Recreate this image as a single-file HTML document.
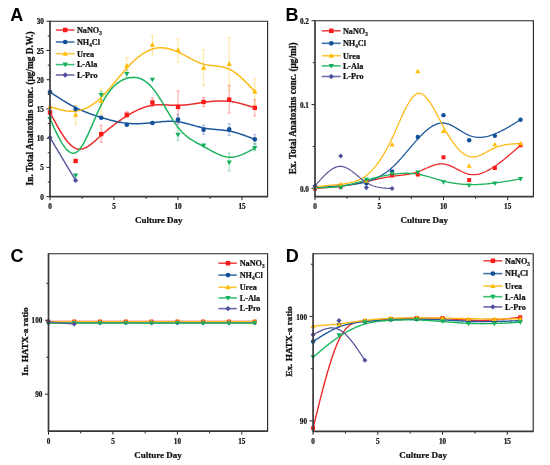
<!DOCTYPE html>
<html><head><meta charset="utf-8"><style>html,body{margin:0;padding:0;background:#fff;width:550px;height:465px;overflow:hidden}svg{display:block;will-change:transform}</style></head>
<body><svg width="550" height="465" viewBox="0 0 550 465">
<rect width="550" height="465" fill="#fff"/>
<line x1="50" y1="196.6" x2="50" y2="200.1" stroke="#222" stroke-width="1"/>
<text x="50" y="209.4" font-family="Liberation Serif" font-weight="bold" stroke="#111" stroke-width="0.22" font-size="7.2" text-anchor="middle" fill="#111">0</text>
<line x1="114" y1="196.6" x2="114" y2="200.1" stroke="#222" stroke-width="1"/>
<text x="114" y="209.4" font-family="Liberation Serif" font-weight="bold" stroke="#111" stroke-width="0.22" font-size="7.2" text-anchor="middle" fill="#111">5</text>
<line x1="178" y1="196.6" x2="178" y2="200.1" stroke="#222" stroke-width="1"/>
<text x="178" y="209.4" font-family="Liberation Serif" font-weight="bold" stroke="#111" stroke-width="0.22" font-size="7.2" text-anchor="middle" fill="#111">10</text>
<line x1="242" y1="196.6" x2="242" y2="200.1" stroke="#222" stroke-width="1"/>
<text x="242" y="209.4" font-family="Liberation Serif" font-weight="bold" stroke="#111" stroke-width="0.22" font-size="7.2" text-anchor="middle" fill="#111">15</text>
<line x1="82" y1="196.6" x2="82" y2="198.8" stroke="#222" stroke-width="1"/>
<line x1="146" y1="196.6" x2="146" y2="198.8" stroke="#222" stroke-width="1"/>
<line x1="210" y1="196.6" x2="210" y2="198.8" stroke="#222" stroke-width="1"/>
<line x1="46.5" y1="196.6" x2="50" y2="196.6" stroke="#222" stroke-width="1"/>
<text x="43.9" y="199.7" font-family="Liberation Serif" font-weight="bold" stroke="#111" stroke-width="0.22" font-size="7.2" text-anchor="end" fill="#111">0</text>
<line x1="46.5" y1="167.38" x2="50" y2="167.38" stroke="#222" stroke-width="1"/>
<text x="43.9" y="170.48" font-family="Liberation Serif" font-weight="bold" stroke="#111" stroke-width="0.22" font-size="7.2" text-anchor="end" fill="#111">5</text>
<line x1="46.5" y1="138.17" x2="50" y2="138.17" stroke="#222" stroke-width="1"/>
<text x="43.9" y="141.27" font-family="Liberation Serif" font-weight="bold" stroke="#111" stroke-width="0.22" font-size="7.2" text-anchor="end" fill="#111">10</text>
<line x1="46.5" y1="108.95" x2="50" y2="108.95" stroke="#222" stroke-width="1"/>
<text x="43.9" y="112.05" font-family="Liberation Serif" font-weight="bold" stroke="#111" stroke-width="0.22" font-size="7.2" text-anchor="end" fill="#111">15</text>
<line x1="46.5" y1="79.73" x2="50" y2="79.73" stroke="#222" stroke-width="1"/>
<text x="43.9" y="82.83" font-family="Liberation Serif" font-weight="bold" stroke="#111" stroke-width="0.22" font-size="7.2" text-anchor="end" fill="#111">20</text>
<line x1="46.5" y1="50.52" x2="50" y2="50.52" stroke="#222" stroke-width="1"/>
<text x="43.9" y="53.62" font-family="Liberation Serif" font-weight="bold" stroke="#111" stroke-width="0.22" font-size="7.2" text-anchor="end" fill="#111">25</text>
<line x1="46.5" y1="21.3" x2="50" y2="21.3" stroke="#222" stroke-width="1"/>
<text x="43.9" y="24.4" font-family="Liberation Serif" font-weight="bold" stroke="#111" stroke-width="0.22" font-size="7.2" text-anchor="end" fill="#111">30</text>
<line x1="47.8" y1="181.99" x2="50" y2="181.99" stroke="#222" stroke-width="1"/>
<line x1="47.8" y1="152.78" x2="50" y2="152.78" stroke="#222" stroke-width="1"/>
<line x1="47.8" y1="123.56" x2="50" y2="123.56" stroke="#222" stroke-width="1"/>
<line x1="47.8" y1="94.34" x2="50" y2="94.34" stroke="#222" stroke-width="1"/>
<line x1="47.8" y1="65.12" x2="50" y2="65.12" stroke="#222" stroke-width="1"/>
<line x1="47.8" y1="35.91" x2="50" y2="35.91" stroke="#222" stroke-width="1"/>
<text x="158.8" y="223.1" font-family="Liberation Serif" font-weight="bold" stroke="#111" stroke-width="0.22" font-size="9" text-anchor="middle" fill="#111">Culture Day</text>
<text transform="translate(32.7 108.4) rotate(-90)" x="0" y="0" font-family="Liberation Serif" font-weight="bold" stroke="#111" stroke-width="0.3" font-size="9.3" text-anchor="middle" fill="#111">In. Total Anatoxins conc. (μg/mg D.W.)</text>
<text x="10.3" y="21.1" font-family="Liberation Sans" font-weight="bold" font-size="18" fill="#000">A</text>
<g stroke="#ff1a1a" stroke-width="0.9" opacity="0.45"><line x1="101.2" y1="142.26" x2="101.2" y2="125.31"/><line x1="99.6" y1="142.26" x2="102.8" y2="142.26"/><line x1="99.6" y1="125.31" x2="102.8" y2="125.31"/></g>
<g stroke="#ff1a1a" stroke-width="0.9" opacity="0.45"><line x1="126.8" y1="117.72" x2="126.8" y2="111.87"/><line x1="125.2" y1="117.72" x2="128.4" y2="117.72"/><line x1="125.2" y1="111.87" x2="128.4" y2="111.87"/></g>
<g stroke="#ff1a1a" stroke-width="0.9" opacity="0.45"><line x1="152.4" y1="106.61" x2="152.4" y2="97.85"/><line x1="150.8" y1="106.61" x2="154" y2="106.61"/><line x1="150.8" y1="97.85" x2="154" y2="97.85"/></g>
<g stroke="#ff1a1a" stroke-width="0.9" opacity="0.45"><line x1="178" y1="122.97" x2="178" y2="90.84"/><line x1="176.4" y1="122.97" x2="179.6" y2="122.97"/><line x1="176.4" y1="90.84" x2="179.6" y2="90.84"/></g>
<g stroke="#ff1a1a" stroke-width="0.9" opacity="0.45"><line x1="203.6" y1="106.61" x2="203.6" y2="97.56"/><line x1="202" y1="106.61" x2="205.2" y2="106.61"/><line x1="202" y1="97.56" x2="205.2" y2="97.56"/></g>
<g stroke="#ff1a1a" stroke-width="0.9" opacity="0.45"><line x1="229.2" y1="113.04" x2="229.2" y2="85.58"/><line x1="227.6" y1="113.04" x2="230.8" y2="113.04"/><line x1="227.6" y1="85.58" x2="230.8" y2="85.58"/></g>
<g stroke="#ff1a1a" stroke-width="0.9" opacity="0.45"><line x1="254.8" y1="115.96" x2="254.8" y2="99.6"/><line x1="253.2" y1="115.96" x2="256.4" y2="115.96"/><line x1="253.2" y1="99.6" x2="256.4" y2="99.6"/></g>
<g stroke="#11509a" stroke-width="0.9" opacity="0.45"><line x1="75.6" y1="111.87" x2="75.6" y2="106.03"/><line x1="74" y1="111.87" x2="77.2" y2="111.87"/><line x1="74" y1="106.03" x2="77.2" y2="106.03"/></g>
<g stroke="#11509a" stroke-width="0.9" opacity="0.45"><line x1="178" y1="124.73" x2="178" y2="114.21"/><line x1="176.4" y1="124.73" x2="179.6" y2="124.73"/><line x1="176.4" y1="114.21" x2="179.6" y2="114.21"/></g>
<g stroke="#11509a" stroke-width="0.9" opacity="0.45"><line x1="203.6" y1="134.08" x2="203.6" y2="125.31"/><line x1="202" y1="134.08" x2="205.2" y2="134.08"/><line x1="202" y1="125.31" x2="205.2" y2="125.31"/></g>
<g stroke="#11509a" stroke-width="0.9" opacity="0.45"><line x1="229.2" y1="135.25" x2="229.2" y2="123.85"/><line x1="227.6" y1="135.25" x2="230.8" y2="135.25"/><line x1="227.6" y1="123.85" x2="230.8" y2="123.85"/></g>
<g stroke="#11509a" stroke-width="0.9" opacity="0.45"><line x1="254.8" y1="144.3" x2="254.8" y2="134.66"/><line x1="253.2" y1="144.3" x2="256.4" y2="144.3"/><line x1="253.2" y1="134.66" x2="256.4" y2="134.66"/></g>
<g stroke="#ffbc00" stroke-width="0.9" opacity="0.45"><line x1="75.6" y1="124.73" x2="75.6" y2="105.44"/><line x1="74" y1="124.73" x2="77.2" y2="124.73"/><line x1="74" y1="105.44" x2="77.2" y2="105.44"/></g>
<g stroke="#ffbc00" stroke-width="0.9" opacity="0.45"><line x1="101.2" y1="114.79" x2="101.2" y2="89.08"/><line x1="99.6" y1="114.79" x2="102.8" y2="114.79"/><line x1="99.6" y1="89.08" x2="102.8" y2="89.08"/></g>
<g stroke="#ffbc00" stroke-width="0.9" opacity="0.45"><line x1="126.8" y1="73.89" x2="126.8" y2="57.53"/><line x1="125.2" y1="73.89" x2="128.4" y2="73.89"/><line x1="125.2" y1="57.53" x2="128.4" y2="57.53"/></g>
<g stroke="#ffbc00" stroke-width="0.9" opacity="0.45"><line x1="152.4" y1="54.9" x2="152.4" y2="35.62"/><line x1="150.8" y1="54.9" x2="154" y2="54.9"/><line x1="150.8" y1="35.62" x2="154" y2="35.62"/></g>
<g stroke="#ffbc00" stroke-width="0.9" opacity="0.45"><line x1="178" y1="62.2" x2="178" y2="38.83"/><line x1="176.4" y1="62.2" x2="179.6" y2="62.2"/><line x1="176.4" y1="38.83" x2="179.6" y2="38.83"/></g>
<g stroke="#ffbc00" stroke-width="0.9" opacity="0.45"><line x1="203.6" y1="85.58" x2="203.6" y2="49.93"/><line x1="202" y1="85.58" x2="205.2" y2="85.58"/><line x1="202" y1="49.93" x2="205.2" y2="49.93"/></g>
<g stroke="#ffbc00" stroke-width="0.9" opacity="0.45"><line x1="229.2" y1="90.84" x2="229.2" y2="37.66"/><line x1="227.6" y1="90.84" x2="230.8" y2="90.84"/><line x1="227.6" y1="37.66" x2="230.8" y2="37.66"/></g>
<g stroke="#ffbc00" stroke-width="0.9" opacity="0.45"><line x1="254.8" y1="104.28" x2="254.8" y2="78.56"/><line x1="253.2" y1="104.28" x2="256.4" y2="104.28"/><line x1="253.2" y1="78.56" x2="256.4" y2="78.56"/></g>
<g stroke="#12b05a" stroke-width="0.9" opacity="0.45"><line x1="101.2" y1="99.6" x2="101.2" y2="91.42"/><line x1="99.6" y1="99.6" x2="102.8" y2="99.6"/><line x1="99.6" y1="91.42" x2="102.8" y2="91.42"/></g>
<g stroke="#12b05a" stroke-width="0.9" opacity="0.45"><line x1="126.8" y1="77.4" x2="126.8" y2="69.8"/><line x1="125.2" y1="77.4" x2="128.4" y2="77.4"/><line x1="125.2" y1="69.8" x2="128.4" y2="69.8"/></g>
<g stroke="#12b05a" stroke-width="0.9" opacity="0.45"><line x1="178" y1="140.5" x2="178" y2="127.65"/><line x1="176.4" y1="140.5" x2="179.6" y2="140.5"/><line x1="176.4" y1="127.65" x2="179.6" y2="127.65"/></g>
<g stroke="#12b05a" stroke-width="0.9" opacity="0.45"><line x1="229.2" y1="170.89" x2="229.2" y2="152.78"/><line x1="227.6" y1="170.89" x2="230.8" y2="170.89"/><line x1="227.6" y1="152.78" x2="230.8" y2="152.78"/></g>
<g stroke="#12b05a" stroke-width="0.9" opacity="0.45"><line x1="254.8" y1="150.73" x2="254.8" y2="143.43"/><line x1="253.2" y1="150.73" x2="256.4" y2="150.73"/><line x1="253.2" y1="143.43" x2="256.4" y2="143.43"/></g>
<path d="M50 112.46 L51.07 114.48 L52.13 116.49 L53.2 118.49 L54.27 120.48 L55.33 122.45 L56.4 124.38 L57.47 126.29 L58.53 128.16 L59.6 129.98 L60.67 131.76 L61.73 133.48 L62.8 135.14 L63.87 136.73 L64.93 138.25 L66 139.7 L67.07 141.07 L68.13 142.35 L69.2 143.53 L70.27 144.62 L71.33 145.6 L72.4 146.48 L73.47 147.24 L74.53 147.88 L75.6 148.39 L76.67 148.78 L77.73 149.04 L78.8 149.18 L79.87 149.21 L80.93 149.13 L82 148.96 L83.07 148.68 L84.13 148.32 L85.2 147.88 L86.27 147.35 L87.33 146.76 L88.4 146.1 L89.47 145.39 L90.53 144.62 L91.6 143.8 L92.67 142.95 L93.73 142.05 L94.8 141.13 L95.87 140.19 L96.93 139.23 L98 138.26 L99.07 137.28 L100.13 136.31 L101.2 135.34 L102.27 134.39 L103.33 133.45 L104.4 132.52 L105.47 131.6 L106.53 130.7 L107.6 129.81 L108.67 128.93 L109.73 128.07 L110.8 127.22 L111.87 126.38 L112.93 125.55 L114 124.74 L115.07 123.94 L116.13 123.15 L117.2 122.38 L118.27 121.61 L119.33 120.86 L120.4 120.13 L121.47 119.4 L122.53 118.69 L123.6 117.99 L124.67 117.3 L125.73 116.63 L126.8 115.96 L127.87 115.31 L128.93 114.67 L130 114.05 L131.07 113.44 L132.13 112.84 L133.2 112.26 L134.27 111.7 L135.33 111.15 L136.4 110.62 L137.47 110.11 L138.53 109.62 L139.6 109.15 L140.67 108.7 L141.73 108.27 L142.8 107.86 L143.87 107.48 L144.93 107.12 L146 106.78 L147.07 106.47 L148.13 106.18 L149.2 105.92 L150.27 105.68 L151.33 105.48 L152.4 105.3 L153.47 105.15 L154.53 105.02 L155.6 104.93 L156.67 104.85 L157.73 104.8 L158.8 104.76 L159.87 104.75 L160.93 104.75 L162 104.76 L163.07 104.79 L164.13 104.82 L165.2 104.87 L166.27 104.92 L167.33 104.97 L168.4 105.03 L169.47 105.09 L170.53 105.14 L171.6 105.2 L172.67 105.24 L173.73 105.29 L174.8 105.32 L175.87 105.34 L176.93 105.35 L178 105.35 L179.07 105.33 L180.13 105.29 L181.2 105.24 L182.27 105.18 L183.33 105.1 L184.4 105.01 L185.47 104.91 L186.53 104.8 L187.6 104.68 L188.67 104.56 L189.73 104.42 L190.8 104.28 L191.87 104.13 L192.93 103.98 L194 103.83 L195.07 103.67 L196.13 103.5 L197.2 103.34 L198.27 103.18 L199.33 103.01 L200.4 102.85 L201.47 102.69 L202.53 102.53 L203.6 102.38 L204.67 102.23 L205.73 102.08 L206.8 101.94 L207.87 101.81 L208.93 101.68 L210 101.57 L211.07 101.46 L212.13 101.35 L213.2 101.26 L214.27 101.18 L215.33 101.11 L216.4 101.04 L217.47 100.99 L218.53 100.95 L219.6 100.93 L220.67 100.92 L221.73 100.92 L222.8 100.93 L223.87 100.96 L224.93 101.01 L226 101.07 L227.07 101.15 L228.13 101.24 L229.2 101.35 L230.27 101.48 L231.33 101.63 L232.4 101.8 L233.47 101.98 L234.53 102.17 L235.6 102.39 L236.67 102.61 L237.73 102.85 L238.8 103.1 L239.87 103.36 L240.93 103.63 L242 103.91 L243.07 104.2 L244.13 104.5 L245.2 104.81 L246.27 105.12 L247.33 105.44 L248.4 105.76 L249.47 106.09 L250.53 106.43 L251.6 106.76 L252.67 107.1 L253.73 107.44 L254.8 107.78" fill="none" stroke="#ee2a2a" stroke-width="1.5" stroke-linejoin="round"/>
<path d="M50 92 L51.07 92.71 L52.13 93.42 L53.2 94.12 L54.27 94.82 L55.33 95.52 L56.4 96.22 L57.47 96.91 L58.53 97.6 L59.6 98.29 L60.67 98.97 L61.73 99.64 L62.8 100.31 L63.87 100.97 L64.93 101.62 L66 102.26 L67.07 102.9 L68.13 103.52 L69.2 104.14 L70.27 104.74 L71.33 105.34 L72.4 105.92 L73.47 106.49 L74.53 107.04 L75.6 107.59 L76.67 108.12 L77.73 108.63 L78.8 109.13 L79.87 109.62 L80.93 110.1 L82 110.56 L83.07 111.01 L84.13 111.46 L85.2 111.89 L86.27 112.31 L87.33 112.72 L88.4 113.13 L89.47 113.52 L90.53 113.91 L91.6 114.28 L92.67 114.66 L93.73 115.02 L94.8 115.38 L95.87 115.73 L96.93 116.08 L98 116.42 L99.07 116.76 L100.13 117.09 L101.2 117.42 L102.27 117.75 L103.33 118.07 L104.4 118.39 L105.47 118.71 L106.53 119.02 L107.6 119.32 L108.67 119.62 L109.73 119.91 L110.8 120.2 L111.87 120.47 L112.93 120.74 L114 121 L115.07 121.25 L116.13 121.49 L117.2 121.73 L118.27 121.95 L119.33 122.16 L120.4 122.35 L121.47 122.54 L122.53 122.71 L123.6 122.87 L124.67 123.02 L125.73 123.15 L126.8 123.27 L127.87 123.37 L128.93 123.46 L130 123.53 L131.07 123.59 L132.13 123.63 L133.2 123.67 L134.27 123.69 L135.33 123.7 L136.4 123.7 L137.47 123.69 L138.53 123.66 L139.6 123.63 L140.67 123.59 L141.73 123.54 L142.8 123.48 L143.87 123.42 L144.93 123.35 L146 123.27 L147.07 123.18 L148.13 123.09 L149.2 122.99 L150.27 122.89 L151.33 122.79 L152.4 122.68 L153.47 122.57 L154.53 122.46 L155.6 122.34 L156.67 122.23 L157.73 122.12 L158.8 122.01 L159.87 121.9 L160.93 121.8 L162 121.71 L163.07 121.62 L164.13 121.54 L165.2 121.47 L166.27 121.41 L167.33 121.36 L168.4 121.33 L169.47 121.3 L170.53 121.3 L171.6 121.31 L172.67 121.33 L173.73 121.38 L174.8 121.44 L175.87 121.52 L176.93 121.63 L178 121.76 L179.07 121.91 L180.13 122.08 L181.2 122.28 L182.27 122.49 L183.33 122.72 L184.4 122.96 L185.47 123.22 L186.53 123.49 L187.6 123.77 L188.67 124.06 L189.73 124.35 L190.8 124.65 L191.87 124.95 L192.93 125.25 L194 125.55 L195.07 125.85 L196.13 126.15 L197.2 126.43 L198.27 126.71 L199.33 126.99 L200.4 127.25 L201.47 127.49 L202.53 127.73 L203.6 127.94 L204.67 128.14 L205.73 128.32 L206.8 128.49 L207.87 128.64 L208.93 128.78 L210 128.91 L211.07 129.03 L212.13 129.14 L213.2 129.25 L214.27 129.35 L215.33 129.45 L216.4 129.54 L217.47 129.64 L218.53 129.73 L219.6 129.83 L220.67 129.94 L221.73 130.05 L222.8 130.17 L223.87 130.29 L224.93 130.43 L226 130.58 L227.07 130.74 L228.13 130.91 L229.2 131.11 L230.27 131.32 L231.33 131.54 L232.4 131.79 L233.47 132.04 L234.53 132.32 L235.6 132.6 L236.67 132.9 L237.73 133.22 L238.8 133.54 L239.87 133.88 L240.93 134.23 L242 134.58 L243.07 134.95 L244.13 135.32 L245.2 135.7 L246.27 136.09 L247.33 136.48 L248.4 136.88 L249.47 137.28 L250.53 137.69 L251.6 138.1 L252.67 138.51 L253.73 138.92 L254.8 139.34" fill="none" stroke="#1f5a9e" stroke-width="1.5" stroke-linejoin="round"/>
<path d="M50 106.61 L51.07 106.95 L52.13 107.29 L53.2 107.63 L54.27 107.96 L55.33 108.28 L56.4 108.6 L57.47 108.91 L58.53 109.2 L59.6 109.49 L60.67 109.76 L61.73 110.01 L62.8 110.25 L63.87 110.46 L64.93 110.66 L66 110.83 L67.07 110.98 L68.13 111.11 L69.2 111.21 L70.27 111.28 L71.33 111.32 L72.4 111.32 L73.47 111.3 L74.53 111.24 L75.6 111.14 L76.67 111.01 L77.73 110.83 L78.8 110.62 L79.87 110.37 L80.93 110.09 L82 109.76 L83.07 109.4 L84.13 109 L85.2 108.56 L86.27 108.09 L87.33 107.57 L88.4 107.02 L89.47 106.43 L90.53 105.8 L91.6 105.14 L92.67 104.44 L93.73 103.7 L94.8 102.92 L95.87 102.1 L96.93 101.25 L98 100.36 L99.07 99.43 L100.13 98.46 L101.2 97.46 L102.27 96.42 L103.33 95.34 L104.4 94.23 L105.47 93.1 L106.53 91.93 L107.6 90.74 L108.67 89.53 L109.73 88.3 L110.8 87.05 L111.87 85.79 L112.93 84.52 L114 83.23 L115.07 81.94 L116.13 80.65 L117.2 79.36 L118.27 78.07 L119.33 76.78 L120.4 75.5 L121.47 74.23 L122.53 72.97 L123.6 71.72 L124.67 70.49 L125.73 69.28 L126.8 68.1 L127.87 66.93 L128.93 65.8 L130 64.69 L131.07 63.6 L132.13 62.55 L133.2 61.53 L134.27 60.53 L135.33 59.57 L136.4 58.63 L137.47 57.73 L138.53 56.87 L139.6 56.04 L140.67 55.24 L141.73 54.48 L142.8 53.76 L143.87 53.07 L144.93 52.43 L146 51.82 L147.07 51.25 L148.13 50.73 L149.2 50.24 L150.27 49.8 L151.33 49.41 L152.4 49.06 L153.47 48.75 L154.53 48.49 L155.6 48.27 L156.67 48.1 L157.73 47.96 L158.8 47.87 L159.87 47.82 L160.93 47.8 L162 47.83 L163.07 47.89 L164.13 47.98 L165.2 48.11 L166.27 48.28 L167.33 48.47 L168.4 48.7 L169.47 48.96 L170.53 49.25 L171.6 49.57 L172.67 49.92 L173.73 50.29 L174.8 50.69 L175.87 51.11 L176.93 51.56 L178 52.03 L179.07 52.52 L180.13 53.03 L181.2 53.56 L182.27 54.1 L183.33 54.65 L184.4 55.21 L185.47 55.79 L186.53 56.36 L187.6 56.94 L188.67 57.51 L189.73 58.09 L190.8 58.65 L191.87 59.21 L192.93 59.76 L194 60.3 L195.07 60.82 L196.13 61.33 L197.2 61.81 L198.27 62.27 L199.33 62.71 L200.4 63.12 L201.47 63.5 L202.53 63.84 L203.6 64.15 L204.67 64.43 L205.73 64.67 L206.8 64.88 L207.87 65.06 L208.93 65.22 L210 65.37 L211.07 65.5 L212.13 65.61 L213.2 65.73 L214.27 65.83 L215.33 65.94 L216.4 66.06 L217.47 66.18 L218.53 66.31 L219.6 66.46 L220.67 66.63 L221.73 66.83 L222.8 67.05 L223.87 67.3 L224.93 67.59 L226 67.91 L227.07 68.28 L228.13 68.7 L229.2 69.17 L230.27 69.69 L231.33 70.26 L232.4 70.88 L233.47 71.55 L234.53 72.26 L235.6 73.02 L236.67 73.82 L237.73 74.65 L238.8 75.53 L239.87 76.43 L240.93 77.37 L242 78.34 L243.07 79.33 L244.13 80.35 L245.2 81.4 L246.27 82.46 L247.33 83.54 L248.4 84.64 L249.47 85.75 L250.53 86.87 L251.6 88 L252.67 89.13 L253.73 90.28 L254.8 91.42" fill="none" stroke="#fcbb1a" stroke-width="1.5" stroke-linejoin="round"/>
<path d="M50 118.88 L51.07 121.24 L52.13 123.59 L53.2 125.92 L54.27 128.22 L55.33 130.49 L56.4 132.7 L57.47 134.85 L58.53 136.93 L59.6 138.93 L60.67 140.84 L61.73 142.66 L62.8 144.36 L63.87 145.95 L64.93 147.4 L66 148.72 L67.07 149.89 L68.13 150.9 L69.2 151.74 L70.27 152.4 L71.33 152.87 L72.4 153.15 L73.47 153.21 L74.53 153.06 L75.6 152.68 L76.67 152.06 L77.73 151.22 L78.8 150.17 L79.87 148.93 L80.93 147.5 L82 145.9 L83.07 144.16 L84.13 142.27 L85.2 140.26 L86.27 138.14 L87.33 135.92 L88.4 133.63 L89.47 131.26 L90.53 128.84 L91.6 126.38 L92.67 123.9 L93.73 121.41 L94.8 118.92 L95.87 116.45 L96.93 114.01 L98 111.62 L99.07 109.28 L100.13 107.03 L101.2 104.86 L102.27 102.79 L103.33 100.83 L104.4 98.96 L105.47 97.19 L106.53 95.51 L107.6 93.93 L108.67 92.43 L109.73 91.02 L110.8 89.7 L111.87 88.46 L112.93 87.29 L114 86.21 L115.07 85.2 L116.13 84.26 L117.2 83.4 L118.27 82.6 L119.33 81.86 L120.4 81.19 L121.47 80.59 L122.53 80.03 L123.6 79.54 L124.67 79.1 L125.73 78.71 L126.8 78.37 L127.87 78.08 L128.93 77.83 L130 77.64 L131.07 77.49 L132.13 77.4 L133.2 77.37 L134.27 77.39 L135.33 77.47 L136.4 77.61 L137.47 77.81 L138.53 78.07 L139.6 78.39 L140.67 78.79 L141.73 79.25 L142.8 79.78 L143.87 80.38 L144.93 81.05 L146 81.79 L147.07 82.62 L148.13 83.51 L149.2 84.49 L150.27 85.55 L151.33 86.69 L152.4 87.91 L153.47 89.22 L154.53 90.61 L155.6 92.07 L156.67 93.59 L157.73 95.17 L158.8 96.8 L159.87 98.48 L160.93 100.19 L162 101.94 L163.07 103.71 L164.13 105.5 L165.2 107.3 L166.27 109.1 L167.33 110.91 L168.4 112.7 L169.47 114.48 L170.53 116.23 L171.6 117.95 L172.67 119.64 L173.73 121.29 L174.8 122.88 L175.87 124.42 L176.93 125.9 L178 127.31 L179.07 128.64 L180.13 129.9 L181.2 131.09 L182.27 132.21 L183.33 133.27 L184.4 134.28 L185.47 135.23 L186.53 136.12 L187.6 136.97 L188.67 137.78 L189.73 138.55 L190.8 139.27 L191.87 139.97 L192.93 140.64 L194 141.28 L195.07 141.9 L196.13 142.5 L197.2 143.08 L198.27 143.66 L199.33 144.23 L200.4 144.79 L201.47 145.35 L202.53 145.92 L203.6 146.49 L204.67 147.08 L205.73 147.67 L206.8 148.26 L207.87 148.86 L208.93 149.46 L210 150.06 L211.07 150.65 L212.13 151.23 L213.2 151.8 L214.27 152.36 L215.33 152.9 L216.4 153.42 L217.47 153.92 L218.53 154.4 L219.6 154.84 L220.67 155.26 L221.73 155.65 L222.8 156 L223.87 156.31 L224.93 156.58 L226 156.81 L227.07 156.99 L228.13 157.12 L229.2 157.21 L230.27 157.23 L231.33 157.21 L232.4 157.14 L233.47 157.02 L234.53 156.85 L235.6 156.64 L236.67 156.39 L237.73 156.1 L238.8 155.78 L239.87 155.42 L240.93 155.03 L242 154.61 L243.07 154.16 L244.13 153.69 L245.2 153.19 L246.27 152.68 L247.33 152.15 L248.4 151.6 L249.47 151.04 L250.53 150.46 L251.6 149.88 L252.67 149.29 L253.73 148.7 L254.8 148.1" fill="none" stroke="#1db45e" stroke-width="1.5" stroke-linejoin="round"/>
<path d="M50 137.58 L75.6 180.41" fill="none" stroke="#54549e" stroke-width="1.35" stroke-linejoin="round"/>
<rect x="47.8" y="110.26" width="4.4" height="4.4" fill="#ff1a1a"/>
<rect x="73.4" y="158.76" width="4.4" height="4.4" fill="#ff1a1a"/>
<rect x="99" y="131.88" width="4.4" height="4.4" fill="#ff1a1a"/>
<rect x="124.6" y="112.59" width="4.4" height="4.4" fill="#ff1a1a"/>
<rect x="150.2" y="100.32" width="4.4" height="4.4" fill="#ff1a1a"/>
<rect x="175.8" y="104.7" width="4.4" height="4.4" fill="#ff1a1a"/>
<rect x="201.4" y="99.74" width="4.4" height="4.4" fill="#ff1a1a"/>
<rect x="227" y="97.4" width="4.4" height="4.4" fill="#ff1a1a"/>
<rect x="252.6" y="105.58" width="4.4" height="4.4" fill="#ff1a1a"/>
<circle cx="50" cy="92" r="2.31" fill="#11509a"/>
<circle cx="75.6" cy="108.95" r="2.31" fill="#11509a"/>
<circle cx="101.2" cy="117.72" r="2.31" fill="#11509a"/>
<circle cx="126.8" cy="124.73" r="2.31" fill="#11509a"/>
<circle cx="152.4" cy="122.97" r="2.31" fill="#11509a"/>
<circle cx="178" cy="119.47" r="2.31" fill="#11509a"/>
<circle cx="203.6" cy="129.69" r="2.31" fill="#11509a"/>
<circle cx="229.2" cy="129.4" r="2.31" fill="#11509a"/>
<circle cx="254.8" cy="139.34" r="2.31" fill="#11509a"/>
<path d="M50 103.97L52.64 108.59L47.36 108.59Z" fill="#ffbc00"/>
<path d="M75.6 112.15L78.24 116.77L72.96 116.77Z" fill="#ffbc00"/>
<path d="M101.2 98.42L103.84 103.04L98.56 103.04Z" fill="#ffbc00"/>
<path d="M126.8 63.07L129.44 67.69L124.16 67.69Z" fill="#ffbc00"/>
<path d="M152.4 42.03L155.04 46.65L149.76 46.65Z" fill="#ffbc00"/>
<path d="M178 47.29L180.64 51.91L175.36 51.91Z" fill="#ffbc00"/>
<path d="M203.6 65.11L206.24 69.73L200.96 69.73Z" fill="#ffbc00"/>
<path d="M229.2 61.32L231.84 65.94L226.56 65.94Z" fill="#ffbc00"/>
<path d="M254.8 88.78L257.44 93.4L252.16 93.4Z" fill="#ffbc00"/>
<path d="M50 121.52L52.64 116.9L47.36 116.9Z" fill="#12b05a"/>
<path d="M75.6 178.2L78.24 173.58L72.96 173.58Z" fill="#12b05a"/>
<path d="M101.2 97.57L103.84 92.95L98.56 92.95Z" fill="#12b05a"/>
<path d="M126.8 76.53L129.44 71.91L124.16 71.91Z" fill="#12b05a"/>
<path d="M152.4 82.37L155.04 77.75L149.76 77.75Z" fill="#12b05a"/>
<path d="M178 137.3L180.64 132.68L175.36 132.68Z" fill="#12b05a"/>
<path d="M203.6 148.11L206.24 143.49L200.96 143.49Z" fill="#12b05a"/>
<path d="M229.2 165.06L231.84 160.44L226.56 160.44Z" fill="#12b05a"/>
<path d="M254.8 150.74L257.44 146.12L252.16 146.12Z" fill="#12b05a"/>
<path d="M50 134.94L52.64 137.58L50 140.22L47.36 137.58Z" fill="#4f4f9f"/>
<path d="M75.6 177.77L78.24 180.41L75.6 183.05L72.96 180.41Z" fill="#4f4f9f"/>
<path d="M50 21.3H267.6V196.6" fill="none" stroke="#222" stroke-width="1.1"/>
<path d="M50 20.8V196.6H268.1" fill="none" stroke="#3a3a3a" stroke-width="1.7"/>
<line x1="55.8" y1="30" x2="74.5" y2="30" stroke="#ee2a2a" stroke-width="1.6" opacity="0.85"/>
<rect x="62.95" y="27.75" width="4.5" height="4.5" fill="#ff1a1a"/>
<text x="76.9" y="32.8" font-family="Liberation Serif" font-weight="bold" stroke="#111" stroke-width="0.22" font-size="8.2" fill="#111">NaNO<tspan font-size="5.2" dy="2">3</tspan></text>
<line x1="55.8" y1="42" x2="74.5" y2="42" stroke="#1f5a9e" stroke-width="1.6" opacity="0.85"/>
<circle cx="65.2" cy="42" r="2.36" fill="#11509a"/>
<text x="76.9" y="44.8" font-family="Liberation Serif" font-weight="bold" stroke="#111" stroke-width="0.22" font-size="8.2" fill="#111">NH<tspan font-size="5.2" dy="2">4</tspan><tspan dy="-2">Cl</tspan></text>
<line x1="55.8" y1="53.7" x2="74.5" y2="53.7" stroke="#fcbb1a" stroke-width="1.6" opacity="0.85"/>
<path d="M65.2 51L67.9 55.73L62.5 55.73Z" fill="#ffbc00"/>
<text x="76.9" y="56.5" font-family="Liberation Serif" font-weight="bold" stroke="#111" stroke-width="0.22" font-size="8.2" fill="#111">Urea</text>
<line x1="55.8" y1="64.6" x2="74.5" y2="64.6" stroke="#1db45e" stroke-width="1.6" opacity="0.85"/>
<path d="M65.2 67.3L67.9 62.57L62.5 62.57Z" fill="#12b05a"/>
<text x="76.9" y="67.4" font-family="Liberation Serif" font-weight="bold" stroke="#111" stroke-width="0.22" font-size="8.2" fill="#111">L-Ala</text>
<line x1="55.8" y1="75" x2="74.5" y2="75" stroke="#54549e" stroke-width="1.6" opacity="0.85"/>
<path d="M65.2 72.3L67.9 75L65.2 77.7L62.5 75Z" fill="#4f4f9f"/>
<text x="76.9" y="77.8" font-family="Liberation Serif" font-weight="bold" stroke="#111" stroke-width="0.22" font-size="8.2" fill="#111">L-Pro</text>
<line x1="315" y1="196.6" x2="315" y2="200.1" stroke="#222" stroke-width="1"/>
<text x="315" y="209.4" font-family="Liberation Serif" font-weight="bold" stroke="#111" stroke-width="0.22" font-size="7.2" text-anchor="middle" fill="#111">0</text>
<line x1="379.24" y1="196.6" x2="379.24" y2="200.1" stroke="#222" stroke-width="1"/>
<text x="379.24" y="209.4" font-family="Liberation Serif" font-weight="bold" stroke="#111" stroke-width="0.22" font-size="7.2" text-anchor="middle" fill="#111">5</text>
<line x1="443.47" y1="196.6" x2="443.47" y2="200.1" stroke="#222" stroke-width="1"/>
<text x="443.47" y="209.4" font-family="Liberation Serif" font-weight="bold" stroke="#111" stroke-width="0.22" font-size="7.2" text-anchor="middle" fill="#111">10</text>
<line x1="507.71" y1="196.6" x2="507.71" y2="200.1" stroke="#222" stroke-width="1"/>
<text x="507.71" y="209.4" font-family="Liberation Serif" font-weight="bold" stroke="#111" stroke-width="0.22" font-size="7.2" text-anchor="middle" fill="#111">15</text>
<line x1="347.12" y1="196.6" x2="347.12" y2="198.8" stroke="#222" stroke-width="1"/>
<line x1="411.35" y1="196.6" x2="411.35" y2="198.8" stroke="#222" stroke-width="1"/>
<line x1="475.59" y1="196.6" x2="475.59" y2="198.8" stroke="#222" stroke-width="1"/>
<line x1="311.5" y1="188.46" x2="315" y2="188.46" stroke="#222" stroke-width="1"/>
<text x="308.9" y="191.56" font-family="Liberation Serif" font-weight="bold" stroke="#111" stroke-width="0.22" font-size="7.2" text-anchor="end" fill="#111">0.0</text>
<line x1="311.5" y1="104.58" x2="315" y2="104.58" stroke="#222" stroke-width="1"/>
<text x="308.9" y="107.68" font-family="Liberation Serif" font-weight="bold" stroke="#111" stroke-width="0.22" font-size="7.2" text-anchor="end" fill="#111">0.1</text>
<line x1="311.5" y1="20.7" x2="315" y2="20.7" stroke="#222" stroke-width="1"/>
<text x="308.9" y="23.8" font-family="Liberation Serif" font-weight="bold" stroke="#111" stroke-width="0.22" font-size="7.2" text-anchor="end" fill="#111">0.2</text>
<line x1="312.8" y1="146.52" x2="315" y2="146.52" stroke="#222" stroke-width="1"/>
<line x1="312.8" y1="62.64" x2="315" y2="62.64" stroke="#222" stroke-width="1"/>
<text x="424.2" y="223.1" font-family="Liberation Serif" font-weight="bold" stroke="#111" stroke-width="0.22" font-size="9" text-anchor="middle" fill="#111">Culture Day</text>
<text transform="translate(295.6 108.4) rotate(-90)" x="0" y="0" font-family="Liberation Serif" font-weight="bold" stroke="#111" stroke-width="0.3" font-size="9.3" text-anchor="middle" fill="#111">Ex. Total Anatoxins conc. (μg/ml)</text>
<text x="285.6" y="21.1" font-family="Liberation Sans" font-weight="bold" font-size="18" fill="#000">B</text>
<path d="M315 188.46 L316.07 188.39 L317.14 188.32 L318.21 188.25 L319.28 188.18 L320.35 188.11 L321.42 188.04 L322.49 187.96 L323.56 187.88 L324.64 187.8 L325.71 187.72 L326.78 187.64 L327.85 187.55 L328.92 187.47 L329.99 187.37 L331.06 187.28 L332.13 187.18 L333.2 187.08 L334.27 186.97 L335.34 186.86 L336.41 186.74 L337.48 186.62 L338.55 186.49 L339.62 186.36 L340.69 186.23 L341.76 186.08 L342.84 185.94 L343.91 185.78 L344.98 185.62 L346.05 185.46 L347.12 185.29 L348.19 185.11 L349.26 184.93 L350.33 184.75 L351.4 184.56 L352.47 184.37 L353.54 184.17 L354.61 183.97 L355.68 183.77 L356.75 183.56 L357.82 183.35 L358.89 183.13 L359.96 182.91 L361.04 182.69 L362.11 182.47 L363.18 182.24 L364.25 182.01 L365.32 181.78 L366.39 181.54 L367.46 181.31 L368.53 181.07 L369.6 180.83 L370.67 180.59 L371.74 180.35 L372.81 180.11 L373.88 179.87 L374.95 179.63 L376.02 179.39 L377.09 179.15 L378.16 178.92 L379.24 178.69 L380.31 178.47 L381.38 178.25 L382.45 178.03 L383.52 177.82 L384.59 177.61 L385.66 177.41 L386.73 177.21 L387.8 177.03 L388.87 176.85 L389.94 176.68 L391.01 176.51 L392.08 176.36 L393.15 176.21 L394.22 176.07 L395.29 175.94 L396.36 175.81 L397.44 175.69 L398.51 175.57 L399.58 175.44 L400.65 175.32 L401.72 175.19 L402.79 175.06 L403.86 174.92 L404.93 174.77 L406 174.61 L407.07 174.45 L408.14 174.27 L409.21 174.07 L410.28 173.86 L411.35 173.63 L412.42 173.39 L413.49 173.12 L414.56 172.83 L415.64 172.52 L416.71 172.18 L417.78 171.81 L418.85 171.42 L419.92 171 L420.99 170.57 L422.06 170.11 L423.13 169.65 L424.2 169.17 L425.27 168.7 L426.34 168.22 L427.41 167.75 L428.48 167.28 L429.55 166.83 L430.62 166.39 L431.69 165.98 L432.76 165.59 L433.84 165.23 L434.91 164.9 L435.98 164.61 L437.05 164.36 L438.12 164.15 L439.19 163.99 L440.26 163.89 L441.33 163.85 L442.4 163.86 L443.47 163.94 L444.54 164.09 L445.61 164.3 L446.68 164.58 L447.75 164.9 L448.82 165.28 L449.89 165.69 L450.96 166.14 L452.04 166.63 L453.11 167.14 L454.18 167.67 L455.25 168.22 L456.32 168.78 L457.39 169.34 L458.46 169.9 L459.53 170.45 L460.6 170.99 L461.67 171.52 L462.74 172.02 L463.81 172.5 L464.88 172.94 L465.95 173.34 L467.02 173.7 L468.09 174.01 L469.16 174.26 L470.24 174.45 L471.31 174.59 L472.38 174.67 L473.45 174.69 L474.52 174.66 L475.59 174.57 L476.66 174.44 L477.73 174.26 L478.8 174.03 L479.87 173.76 L480.94 173.44 L482.01 173.09 L483.08 172.69 L484.15 172.26 L485.22 171.79 L486.29 171.28 L487.36 170.74 L488.44 170.18 L489.51 169.58 L490.58 168.96 L491.65 168.31 L492.72 167.63 L493.79 166.94 L494.86 166.22 L495.93 165.49 L497 164.73 L498.07 163.97 L499.14 163.18 L500.21 162.38 L501.28 161.56 L502.35 160.74 L503.42 159.89 L504.49 159.04 L505.56 158.17 L506.64 157.3 L507.71 156.41 L508.78 155.51 L509.85 154.61 L510.92 153.7 L511.99 152.78 L513.06 151.85 L514.13 150.92 L515.2 149.98 L516.27 149.04 L517.34 148.1 L518.41 147.16 L519.48 146.21 L520.55 145.26" fill="none" stroke="#ee2a2a" stroke-width="1.3" stroke-linejoin="round"/>
<path d="M315 187.62 L316.07 187.55 L317.14 187.48 L318.21 187.41 L319.28 187.34 L320.35 187.27 L321.42 187.2 L322.49 187.13 L323.56 187.06 L324.64 186.99 L325.71 186.91 L326.78 186.84 L327.85 186.76 L328.92 186.69 L329.99 186.61 L331.06 186.54 L332.13 186.46 L333.2 186.38 L334.27 186.3 L335.34 186.21 L336.41 186.13 L337.48 186.04 L338.55 185.96 L339.62 185.87 L340.69 185.78 L341.76 185.69 L342.84 185.59 L343.91 185.5 L344.98 185.4 L346.05 185.29 L347.12 185.18 L348.19 185.07 L349.26 184.95 L350.33 184.82 L351.4 184.68 L352.47 184.54 L353.54 184.39 L354.61 184.23 L355.68 184.06 L356.75 183.89 L357.82 183.7 L358.89 183.49 L359.96 183.28 L361.04 183.06 L362.11 182.82 L363.18 182.57 L364.25 182.3 L365.32 182.02 L366.39 181.72 L367.46 181.41 L368.53 181.08 L369.6 180.74 L370.67 180.37 L371.74 179.98 L372.81 179.58 L373.88 179.15 L374.95 178.7 L376.02 178.22 L377.09 177.72 L378.16 177.2 L379.24 176.65 L380.31 176.07 L381.38 175.46 L382.45 174.82 L383.52 174.15 L384.59 173.46 L385.66 172.72 L386.73 171.96 L387.8 171.16 L388.87 170.33 L389.94 169.46 L391.01 168.55 L392.08 167.6 L393.15 166.62 L394.22 165.6 L395.29 164.55 L396.36 163.46 L397.44 162.35 L398.51 161.21 L399.58 160.04 L400.65 158.86 L401.72 157.65 L402.79 156.43 L403.86 155.2 L404.93 153.95 L406 152.7 L407.07 151.44 L408.14 150.17 L409.21 148.91 L410.28 147.64 L411.35 146.38 L412.42 145.13 L413.49 143.89 L414.56 142.66 L415.64 141.44 L416.71 140.24 L417.78 139.06 L418.85 137.9 L419.92 136.76 L420.99 135.65 L422.06 134.58 L423.13 133.53 L424.2 132.51 L425.27 131.54 L426.34 130.6 L427.41 129.71 L428.48 128.86 L429.55 128.05 L430.62 127.3 L431.69 126.59 L432.76 125.94 L433.84 125.35 L434.91 124.82 L435.98 124.35 L437.05 123.94 L438.12 123.6 L439.19 123.33 L440.26 123.13 L441.33 123 L442.4 122.95 L443.47 122.98 L444.54 123.09 L445.61 123.28 L446.68 123.53 L447.75 123.85 L448.82 124.23 L449.89 124.67 L450.96 125.15 L452.04 125.68 L453.11 126.24 L454.18 126.83 L455.25 127.45 L456.32 128.09 L457.39 128.75 L458.46 129.42 L459.53 130.09 L460.6 130.75 L461.67 131.42 L462.74 132.06 L463.81 132.69 L464.88 133.3 L465.95 133.88 L467.02 134.42 L468.09 134.92 L469.16 135.38 L470.24 135.79 L471.31 136.14 L472.38 136.45 L473.45 136.71 L474.52 136.92 L475.59 137.09 L476.66 137.22 L477.73 137.3 L478.8 137.34 L479.87 137.34 L480.94 137.3 L482.01 137.23 L483.08 137.12 L484.15 136.98 L485.22 136.8 L486.29 136.59 L487.36 136.35 L488.44 136.08 L489.51 135.78 L490.58 135.46 L491.65 135.1 L492.72 134.73 L493.79 134.33 L494.86 133.91 L495.93 133.47 L497 133.01 L498.07 132.53 L499.14 132.04 L500.21 131.53 L501.28 131 L502.35 130.45 L503.42 129.89 L504.49 129.32 L505.56 128.74 L506.64 128.14 L507.71 127.53 L508.78 126.91 L509.85 126.28 L510.92 125.65 L511.99 125 L513.06 124.35 L514.13 123.7 L515.2 123.04 L516.27 122.37 L517.34 121.7 L518.41 121.03 L519.48 120.35 L520.55 119.68" fill="none" stroke="#1f5a9e" stroke-width="1.3" stroke-linejoin="round"/>
<path d="M315 186.79 L316.07 186.68 L317.14 186.58 L318.21 186.48 L319.28 186.38 L320.35 186.28 L321.42 186.18 L322.49 186.07 L323.56 185.97 L324.64 185.86 L325.71 185.76 L326.78 185.65 L327.85 185.55 L328.92 185.44 L329.99 185.33 L331.06 185.22 L332.13 185.11 L333.2 185 L334.27 184.89 L335.34 184.78 L336.41 184.66 L337.48 184.54 L338.55 184.43 L339.62 184.31 L340.69 184.19 L341.76 184.06 L342.84 183.93 L343.91 183.8 L344.98 183.66 L346.05 183.5 L347.12 183.34 L348.19 183.15 L349.26 182.95 L350.33 182.73 L351.4 182.49 L352.47 182.22 L353.54 181.93 L354.61 181.6 L355.68 181.24 L356.75 180.85 L357.82 180.43 L358.89 179.96 L359.96 179.45 L361.04 178.9 L362.11 178.31 L363.18 177.66 L364.25 176.97 L365.32 176.22 L366.39 175.42 L367.46 174.56 L368.53 173.64 L369.6 172.67 L370.67 171.64 L371.74 170.55 L372.81 169.4 L373.88 168.19 L374.95 166.92 L376.02 165.6 L377.09 164.21 L378.16 162.76 L379.24 161.26 L380.31 159.69 L381.38 158.06 L382.45 156.37 L383.52 154.62 L384.59 152.81 L385.66 150.94 L386.73 149 L387.8 147 L388.87 144.94 L389.94 142.81 L391.01 140.62 L392.08 138.37 L393.15 136.06 L394.22 133.69 L395.29 131.29 L396.36 128.86 L397.44 126.41 L398.51 123.96 L399.58 121.52 L400.65 119.1 L401.72 116.72 L402.79 114.38 L403.86 112.1 L404.93 109.9 L406 107.77 L407.07 105.75 L408.14 103.83 L409.21 102.03 L410.28 100.36 L411.35 98.84 L412.42 97.48 L413.49 96.28 L414.56 95.27 L415.64 94.45 L416.71 93.83 L417.78 93.44 L418.85 93.27 L419.92 93.32 L420.99 93.58 L422.06 94.04 L423.13 94.68 L424.2 95.49 L425.27 96.47 L426.34 97.6 L427.41 98.87 L428.48 100.26 L429.55 101.78 L430.62 103.39 L431.69 105.1 L432.76 106.9 L433.84 108.76 L434.91 110.69 L435.98 112.66 L437.05 114.67 L438.12 116.7 L439.19 118.75 L440.26 120.8 L441.33 122.84 L442.4 124.86 L443.47 126.85 L444.54 128.8 L445.61 130.7 L446.68 132.56 L447.75 134.36 L448.82 136.11 L449.89 137.81 L450.96 139.45 L452.04 141.03 L453.11 142.55 L454.18 144.01 L455.25 145.4 L456.32 146.72 L457.39 147.97 L458.46 149.15 L459.53 150.26 L460.6 151.28 L461.67 152.23 L462.74 153.1 L463.81 153.88 L464.88 154.57 L465.95 155.18 L467.02 155.7 L468.09 156.12 L469.16 156.45 L470.24 156.68 L471.31 156.82 L472.38 156.87 L473.45 156.85 L474.52 156.74 L475.59 156.57 L476.66 156.33 L477.73 156.04 L478.8 155.69 L479.87 155.29 L480.94 154.85 L482.01 154.38 L483.08 153.87 L484.15 153.34 L485.22 152.79 L486.29 152.22 L487.36 151.65 L488.44 151.07 L489.51 150.5 L490.58 149.93 L491.65 149.38 L492.72 148.84 L493.79 148.33 L494.86 147.85 L495.93 147.41 L497 146.99 L498.07 146.62 L499.14 146.27 L500.21 145.95 L501.28 145.66 L502.35 145.4 L503.42 145.16 L504.49 144.95 L505.56 144.76 L506.64 144.59 L507.71 144.43 L508.78 144.3 L509.85 144.18 L510.92 144.08 L511.99 143.99 L513.06 143.92 L514.13 143.85 L515.2 143.79 L516.27 143.74 L517.34 143.7 L518.41 143.66 L519.48 143.62 L520.55 143.59" fill="none" stroke="#fcbb1a" stroke-width="1.3" stroke-linejoin="round"/>
<path d="M315 187.62 L316.07 187.62 L317.14 187.62 L318.21 187.62 L319.28 187.62 L320.35 187.61 L321.42 187.6 L322.49 187.59 L323.56 187.58 L324.64 187.56 L325.71 187.53 L326.78 187.5 L327.85 187.46 L328.92 187.42 L329.99 187.36 L331.06 187.3 L332.13 187.24 L333.2 187.16 L334.27 187.07 L335.34 186.97 L336.41 186.86 L337.48 186.74 L338.55 186.61 L339.62 186.47 L340.69 186.31 L341.76 186.14 L342.84 185.96 L343.91 185.76 L344.98 185.55 L346.05 185.33 L347.12 185.1 L348.19 184.87 L349.26 184.62 L350.33 184.36 L351.4 184.1 L352.47 183.83 L353.54 183.55 L354.61 183.27 L355.68 182.99 L356.75 182.7 L357.82 182.41 L358.89 182.11 L359.96 181.81 L361.04 181.52 L362.11 181.22 L363.18 180.92 L364.25 180.62 L365.32 180.33 L366.39 180.03 L367.46 179.74 L368.53 179.46 L369.6 179.17 L370.67 178.89 L371.74 178.62 L372.81 178.35 L373.88 178.08 L374.95 177.82 L376.02 177.56 L377.09 177.3 L378.16 177.06 L379.24 176.81 L380.31 176.58 L381.38 176.35 L382.45 176.12 L383.52 175.9 L384.59 175.69 L385.66 175.49 L386.73 175.29 L387.8 175.1 L388.87 174.92 L389.94 174.74 L391.01 174.57 L392.08 174.41 L393.15 174.26 L394.22 174.12 L395.29 173.99 L396.36 173.86 L397.44 173.75 L398.51 173.65 L399.58 173.55 L400.65 173.47 L401.72 173.41 L402.79 173.35 L403.86 173.31 L404.93 173.28 L406 173.26 L407.07 173.26 L408.14 173.28 L409.21 173.31 L410.28 173.35 L411.35 173.41 L412.42 173.49 L413.49 173.59 L414.56 173.7 L415.64 173.83 L416.71 173.98 L417.78 174.15 L418.85 174.34 L419.92 174.54 L420.99 174.76 L422.06 175 L423.13 175.26 L424.2 175.52 L425.27 175.8 L426.34 176.09 L427.41 176.39 L428.48 176.69 L429.55 177 L430.62 177.32 L431.69 177.64 L432.76 177.96 L433.84 178.29 L434.91 178.62 L435.98 178.94 L437.05 179.26 L438.12 179.58 L439.19 179.89 L440.26 180.2 L441.33 180.5 L442.4 180.79 L443.47 181.07 L444.54 181.34 L445.61 181.59 L446.68 181.84 L447.75 182.07 L448.82 182.3 L449.89 182.51 L450.96 182.71 L452.04 182.9 L453.11 183.08 L454.18 183.25 L455.25 183.41 L456.32 183.56 L457.39 183.7 L458.46 183.83 L459.53 183.94 L460.6 184.05 L461.67 184.15 L462.74 184.24 L463.81 184.32 L464.88 184.38 L465.95 184.44 L467.02 184.49 L468.09 184.53 L469.16 184.56 L470.24 184.58 L471.31 184.6 L472.38 184.6 L473.45 184.6 L474.52 184.58 L475.59 184.56 L476.66 184.53 L477.73 184.5 L478.8 184.45 L479.87 184.4 L480.94 184.34 L482.01 184.27 L483.08 184.2 L484.15 184.12 L485.22 184.04 L486.29 183.94 L487.36 183.85 L488.44 183.74 L489.51 183.63 L490.58 183.52 L491.65 183.4 L492.72 183.27 L493.79 183.15 L494.86 183.01 L495.93 182.87 L497 182.73 L498.07 182.58 L499.14 182.43 L500.21 182.28 L501.28 182.12 L502.35 181.96 L503.42 181.8 L504.49 181.63 L505.56 181.46 L506.64 181.29 L507.71 181.11 L508.78 180.94 L509.85 180.76 L510.92 180.58 L511.99 180.4 L513.06 180.21 L514.13 180.03 L515.2 179.84 L516.27 179.65 L517.34 179.47 L518.41 179.28 L519.48 179.09 L520.55 178.9" fill="none" stroke="#1db45e" stroke-width="1.3" stroke-linejoin="round"/>
<path d="M315 185.95 L316.07 184.7 L317.14 183.46 L318.21 182.23 L319.28 181.02 L320.35 179.82 L321.42 178.64 L322.49 177.49 L323.56 176.37 L324.64 175.29 L325.71 174.24 L326.78 173.25 L327.85 172.3 L328.92 171.4 L329.99 170.56 L331.06 169.78 L332.13 169.07 L333.2 168.43 L334.27 167.87 L335.34 167.38 L336.41 166.98 L337.48 166.67 L338.55 166.46 L339.62 166.34 L340.69 166.32 L341.76 166.41 L342.84 166.59 L343.91 166.87 L344.98 167.24 L346.05 167.69 L347.12 168.21 L348.19 168.79 L349.26 169.44 L350.33 170.14 L351.4 170.89 L352.47 171.67 L353.54 172.49 L354.61 173.34 L355.68 174.21 L356.75 175.09 L357.82 175.97 L358.89 176.86 L359.96 177.74 L361.04 178.61 L362.11 179.45 L363.18 180.27 L364.25 181.06 L365.32 181.81 L366.39 182.51 L367.46 183.16 L368.53 183.75 L369.6 184.3 L370.67 184.8 L371.74 185.26 L372.81 185.68 L373.88 186.05 L374.95 186.39 L376.02 186.69 L377.09 186.96 L378.16 187.2 L379.24 187.4 L380.31 187.59 L381.38 187.74 L382.45 187.88 L383.52 187.99 L384.59 188.09 L385.66 188.17 L386.73 188.24 L387.8 188.3 L388.87 188.35 L389.94 188.39 L391.01 188.43 L392.08 188.46" fill="none" stroke="#54549e" stroke-width="1.1500000000000001" stroke-linejoin="round"/>
<rect x="313" y="186.46" width="4" height="4" fill="#ff1a1a"/>
<rect x="338.69" y="184.79" width="4" height="4" fill="#ff1a1a"/>
<rect x="364.39" y="179.75" width="4" height="4" fill="#ff1a1a"/>
<rect x="390.08" y="173.46" width="4" height="4" fill="#ff1a1a"/>
<rect x="415.78" y="172.54" width="4" height="4" fill="#ff1a1a"/>
<rect x="441.47" y="155.26" width="4" height="4" fill="#ff1a1a"/>
<rect x="467.16" y="178.08" width="4" height="4" fill="#ff1a1a"/>
<rect x="492.86" y="166" width="4" height="4" fill="#ff1a1a"/>
<rect x="518.55" y="143.26" width="4" height="4" fill="#ff1a1a"/>
<circle cx="315" cy="187.62" r="2.21" fill="#11509a"/>
<circle cx="340.69" cy="185.95" r="2.21" fill="#11509a"/>
<circle cx="366.39" cy="183.26" r="2.21" fill="#11509a"/>
<circle cx="392.08" cy="171.35" r="2.21" fill="#11509a"/>
<circle cx="417.78" cy="136.96" r="2.21" fill="#11509a"/>
<circle cx="443.47" cy="115.15" r="2.21" fill="#11509a"/>
<circle cx="469.16" cy="140.32" r="2.21" fill="#11509a"/>
<circle cx="494.86" cy="135.87" r="2.21" fill="#11509a"/>
<circle cx="520.55" cy="119.68" r="2.21" fill="#11509a"/>
<path d="M315 184.27L317.52 188.68L312.48 188.68Z" fill="#ffbc00"/>
<path d="M340.69 181.83L343.21 186.24L338.17 186.24Z" fill="#ffbc00"/>
<path d="M366.39 178.39L368.91 182.8L363.87 182.8Z" fill="#ffbc00"/>
<path d="M392.08 141.99L394.6 146.4L389.56 146.4Z" fill="#ffbc00"/>
<path d="M417.78 68.76L420.3 73.17L415.26 73.17Z" fill="#ffbc00"/>
<path d="M443.47 128.48L445.99 132.89L440.95 132.89Z" fill="#ffbc00"/>
<path d="M469.16 163.3L471.68 167.71L466.64 167.71Z" fill="#ffbc00"/>
<path d="M494.86 141.91L497.38 146.32L492.34 146.32Z" fill="#ffbc00"/>
<path d="M520.55 141.07L523.07 145.48L518.03 145.48Z" fill="#ffbc00"/>
<path d="M315 190.14L317.52 185.73L312.48 185.73Z" fill="#12b05a"/>
<path d="M340.69 190.14L343.21 185.73L338.17 185.73Z" fill="#12b05a"/>
<path d="M366.39 182.26L368.91 177.85L363.87 177.85Z" fill="#12b05a"/>
<path d="M392.08 176.14L394.6 171.73L389.56 171.73Z" fill="#12b05a"/>
<path d="M417.78 174.79L420.3 170.38L415.26 170.38Z" fill="#12b05a"/>
<path d="M443.47 184.69L445.99 180.28L440.95 180.28Z" fill="#12b05a"/>
<path d="M469.16 187.96L471.68 183.55L466.64 183.55Z" fill="#12b05a"/>
<path d="M494.86 185.95L497.38 181.54L492.34 181.54Z" fill="#12b05a"/>
<path d="M520.55 181.42L523.07 177.01L518.03 177.01Z" fill="#12b05a"/>
<path d="M315 183.43L317.52 185.95L315 188.47L312.48 185.95Z" fill="#4f4f9f"/>
<path d="M340.69 153.57L343.21 156.09L340.69 158.61L338.17 156.09Z" fill="#4f4f9f"/>
<path d="M366.39 185.1L368.91 187.62L366.39 190.14L363.87 187.62Z" fill="#4f4f9f"/>
<path d="M392.08 185.94L394.6 188.46L392.08 190.98L389.56 188.46Z" fill="#4f4f9f"/>
<path d="M315 20.7H533.4V196.6" fill="none" stroke="#222" stroke-width="1.1"/>
<path d="M315 20.2V196.6H533.9" fill="none" stroke="#3a3a3a" stroke-width="1.7"/>
<line x1="321.8" y1="30.8" x2="340.6" y2="30.8" stroke="#ee2a2a" stroke-width="1.6" opacity="0.85"/>
<rect x="329.05" y="28.55" width="4.5" height="4.5" fill="#ff1a1a"/>
<text x="342.9" y="33.6" font-family="Liberation Serif" font-weight="bold" stroke="#111" stroke-width="0.22" font-size="8.2" fill="#111">NaNO<tspan font-size="5.2" dy="2">3</tspan></text>
<line x1="321.8" y1="43.3" x2="340.6" y2="43.3" stroke="#1f5a9e" stroke-width="1.6" opacity="0.85"/>
<circle cx="331.3" cy="43.3" r="2.36" fill="#11509a"/>
<text x="342.9" y="46.1" font-family="Liberation Serif" font-weight="bold" stroke="#111" stroke-width="0.22" font-size="8.2" fill="#111">NH<tspan font-size="5.2" dy="2">4</tspan><tspan dy="-2">Cl</tspan></text>
<line x1="321.8" y1="55.7" x2="340.6" y2="55.7" stroke="#fcbb1a" stroke-width="1.6" opacity="0.85"/>
<path d="M331.3 53L334 57.73L328.6 57.73Z" fill="#ffbc00"/>
<text x="342.9" y="58.5" font-family="Liberation Serif" font-weight="bold" stroke="#111" stroke-width="0.22" font-size="8.2" fill="#111">Urea</text>
<line x1="321.8" y1="65.9" x2="340.6" y2="65.9" stroke="#1db45e" stroke-width="1.6" opacity="0.85"/>
<path d="M331.3 68.6L334 63.88L328.6 63.88Z" fill="#12b05a"/>
<text x="342.9" y="68.7" font-family="Liberation Serif" font-weight="bold" stroke="#111" stroke-width="0.22" font-size="8.2" fill="#111">L-Ala</text>
<line x1="321.8" y1="76.5" x2="340.6" y2="76.5" stroke="#54549e" stroke-width="1.6" opacity="0.85"/>
<path d="M331.3 73.8L334 76.5L331.3 79.2L328.6 76.5Z" fill="#4f4f9f"/>
<text x="342.9" y="79.3" font-family="Liberation Serif" font-weight="bold" stroke="#111" stroke-width="0.22" font-size="8.2" fill="#111">L-Pro</text>
<line x1="48.5" y1="431.1" x2="48.5" y2="434.6" stroke="#222" stroke-width="1"/>
<text x="48.5" y="443.9" font-family="Liberation Serif" font-weight="bold" stroke="#111" stroke-width="0.22" font-size="7.2" text-anchor="middle" fill="#111">0</text>
<line x1="112.94" y1="431.1" x2="112.94" y2="434.6" stroke="#222" stroke-width="1"/>
<text x="112.94" y="443.9" font-family="Liberation Serif" font-weight="bold" stroke="#111" stroke-width="0.22" font-size="7.2" text-anchor="middle" fill="#111">5</text>
<line x1="177.38" y1="431.1" x2="177.38" y2="434.6" stroke="#222" stroke-width="1"/>
<text x="177.38" y="443.9" font-family="Liberation Serif" font-weight="bold" stroke="#111" stroke-width="0.22" font-size="7.2" text-anchor="middle" fill="#111">10</text>
<line x1="241.82" y1="431.1" x2="241.82" y2="434.6" stroke="#222" stroke-width="1"/>
<text x="241.82" y="443.9" font-family="Liberation Serif" font-weight="bold" stroke="#111" stroke-width="0.22" font-size="7.2" text-anchor="middle" fill="#111">15</text>
<line x1="80.72" y1="431.1" x2="80.72" y2="433.3" stroke="#222" stroke-width="1"/>
<line x1="145.16" y1="431.1" x2="145.16" y2="433.3" stroke="#222" stroke-width="1"/>
<line x1="209.6" y1="431.1" x2="209.6" y2="433.3" stroke="#222" stroke-width="1"/>
<line x1="45" y1="394.16" x2="48.5" y2="394.16" stroke="#222" stroke-width="1"/>
<text x="42.4" y="397.26" font-family="Liberation Serif" font-weight="bold" stroke="#111" stroke-width="0.22" font-size="7.2" text-anchor="end" fill="#111">90</text>
<line x1="45" y1="320.29" x2="48.5" y2="320.29" stroke="#222" stroke-width="1"/>
<text x="42.4" y="323.39" font-family="Liberation Serif" font-weight="bold" stroke="#111" stroke-width="0.22" font-size="7.2" text-anchor="end" fill="#111">100</text>
<line x1="46.3" y1="357.23" x2="48.5" y2="357.23" stroke="#222" stroke-width="1"/>
<line x1="46.3" y1="283.35" x2="48.5" y2="283.35" stroke="#222" stroke-width="1"/>
<text x="158.05" y="457.6" font-family="Liberation Serif" font-weight="bold" stroke="#111" stroke-width="0.22" font-size="9" text-anchor="middle" fill="#111">Culture Day</text>
<text transform="translate(27.7 341.5) rotate(-90)" x="0" y="0" font-family="Liberation Serif" font-weight="bold" stroke="#111" stroke-width="0.3" font-size="9.25" text-anchor="middle" fill="#111">In. HATX-a ratio</text>
<text x="10.6" y="261.5" font-family="Liberation Sans" font-weight="bold" font-size="18" fill="#000">C</text>
<path d="M48.5 321.4 L49.57 321.4 L50.65 321.4 L51.72 321.4 L52.8 321.4 L53.87 321.4 L54.94 321.4 L56.02 321.4 L57.09 321.4 L58.17 321.4 L59.24 321.4 L60.31 321.4 L61.39 321.4 L62.46 321.4 L63.54 321.4 L64.61 321.4 L65.68 321.4 L66.76 321.4 L67.83 321.4 L68.91 321.4 L69.98 321.4 L71.05 321.4 L72.13 321.4 L73.2 321.4 L74.28 321.4 L75.35 321.4 L76.42 321.4 L77.5 321.4 L78.57 321.4 L79.65 321.4 L80.72 321.4 L81.79 321.4 L82.87 321.4 L83.94 321.4 L85.02 321.4 L86.09 321.4 L87.16 321.4 L88.24 321.4 L89.31 321.4 L90.39 321.4 L91.46 321.4 L92.53 321.4 L93.61 321.4 L94.68 321.4 L95.76 321.4 L96.83 321.4 L97.9 321.4 L98.98 321.4 L100.05 321.4 L101.13 321.4 L102.2 321.4 L103.28 321.4 L104.35 321.4 L105.42 321.4 L106.5 321.4 L107.57 321.4 L108.65 321.4 L109.72 321.4 L110.79 321.4 L111.87 321.4 L112.94 321.4 L114.02 321.4 L115.09 321.4 L116.16 321.4 L117.24 321.4 L118.31 321.4 L119.39 321.4 L120.46 321.4 L121.53 321.4 L122.61 321.4 L123.68 321.4 L124.76 321.4 L125.83 321.4 L126.9 321.4 L127.98 321.4 L129.05 321.4 L130.13 321.4 L131.2 321.4 L132.27 321.4 L133.35 321.4 L134.42 321.4 L135.5 321.4 L136.57 321.4 L137.64 321.4 L138.72 321.4 L139.79 321.4 L140.87 321.4 L141.94 321.4 L143.01 321.4 L144.09 321.4 L145.16 321.4 L146.24 321.4 L147.31 321.4 L148.38 321.4 L149.46 321.4 L150.53 321.4 L151.61 321.4 L152.68 321.4 L153.75 321.4 L154.83 321.4 L155.9 321.4 L156.98 321.4 L158.05 321.4 L159.12 321.4 L160.2 321.4 L161.27 321.4 L162.35 321.4 L163.42 321.4 L164.49 321.4 L165.57 321.4 L166.64 321.4 L167.72 321.4 L168.79 321.4 L169.86 321.4 L170.94 321.4 L172.01 321.4 L173.09 321.4 L174.16 321.4 L175.23 321.4 L176.31 321.4 L177.38 321.4 L178.46 321.4 L179.53 321.4 L180.6 321.4 L181.68 321.4 L182.75 321.4 L183.83 321.4 L184.9 321.4 L185.97 321.4 L187.05 321.4 L188.12 321.4 L189.2 321.4 L190.27 321.4 L191.34 321.4 L192.42 321.4 L193.49 321.4 L194.57 321.4 L195.64 321.4 L196.71 321.4 L197.79 321.4 L198.86 321.4 L199.94 321.4 L201.01 321.4 L202.08 321.4 L203.16 321.4 L204.23 321.4 L205.31 321.4 L206.38 321.4 L207.45 321.4 L208.53 321.4 L209.6 321.4 L210.68 321.4 L211.75 321.4 L212.83 321.4 L213.9 321.4 L214.97 321.4 L216.05 321.4 L217.12 321.4 L218.2 321.4 L219.27 321.4 L220.34 321.4 L221.42 321.4 L222.49 321.4 L223.57 321.4 L224.64 321.4 L225.71 321.4 L226.79 321.4 L227.86 321.4 L228.94 321.4 L230.01 321.4 L231.08 321.4 L232.16 321.4 L233.23 321.4 L234.31 321.4 L235.38 321.4 L236.45 321.4 L237.53 321.4 L238.6 321.4 L239.68 321.4 L240.75 321.4 L241.82 321.4 L242.9 321.4 L243.97 321.4 L245.05 321.4 L246.12 321.4 L247.19 321.4 L248.27 321.4 L249.34 321.4 L250.42 321.4 L251.49 321.4 L252.56 321.4 L253.64 321.4 L254.71 321.4" fill="none" stroke="#ee2a2a" stroke-width="1.2" stroke-linejoin="round"/>
<path d="M48.5 322.87 L49.57 322.87 L50.65 322.87 L51.72 322.87 L52.8 322.87 L53.87 322.87 L54.94 322.87 L56.02 322.87 L57.09 322.87 L58.17 322.87 L59.24 322.87 L60.31 322.87 L61.39 322.87 L62.46 322.87 L63.54 322.87 L64.61 322.87 L65.68 322.87 L66.76 322.87 L67.83 322.87 L68.91 322.87 L69.98 322.87 L71.05 322.87 L72.13 322.87 L73.2 322.87 L74.28 322.87 L75.35 322.87 L76.42 322.87 L77.5 322.87 L78.57 322.87 L79.65 322.87 L80.72 322.87 L81.79 322.87 L82.87 322.87 L83.94 322.87 L85.02 322.87 L86.09 322.87 L87.16 322.87 L88.24 322.87 L89.31 322.87 L90.39 322.87 L91.46 322.87 L92.53 322.87 L93.61 322.87 L94.68 322.87 L95.76 322.87 L96.83 322.87 L97.9 322.87 L98.98 322.87 L100.05 322.87 L101.13 322.87 L102.2 322.87 L103.28 322.87 L104.35 322.87 L105.42 322.87 L106.5 322.87 L107.57 322.87 L108.65 322.87 L109.72 322.87 L110.79 322.87 L111.87 322.87 L112.94 322.87 L114.02 322.87 L115.09 322.87 L116.16 322.87 L117.24 322.87 L118.31 322.87 L119.39 322.87 L120.46 322.87 L121.53 322.87 L122.61 322.87 L123.68 322.87 L124.76 322.87 L125.83 322.87 L126.9 322.87 L127.98 322.87 L129.05 322.87 L130.13 322.87 L131.2 322.87 L132.27 322.87 L133.35 322.87 L134.42 322.87 L135.5 322.87 L136.57 322.87 L137.64 322.87 L138.72 322.87 L139.79 322.87 L140.87 322.87 L141.94 322.87 L143.01 322.87 L144.09 322.87 L145.16 322.87 L146.24 322.87 L147.31 322.87 L148.38 322.87 L149.46 322.87 L150.53 322.87 L151.61 322.87 L152.68 322.87 L153.75 322.87 L154.83 322.87 L155.9 322.87 L156.98 322.87 L158.05 322.87 L159.12 322.87 L160.2 322.87 L161.27 322.87 L162.35 322.87 L163.42 322.87 L164.49 322.87 L165.57 322.87 L166.64 322.87 L167.72 322.87 L168.79 322.87 L169.86 322.87 L170.94 322.87 L172.01 322.87 L173.09 322.87 L174.16 322.87 L175.23 322.87 L176.31 322.87 L177.38 322.87 L178.46 322.87 L179.53 322.87 L180.6 322.87 L181.68 322.87 L182.75 322.87 L183.83 322.87 L184.9 322.87 L185.97 322.87 L187.05 322.87 L188.12 322.87 L189.2 322.87 L190.27 322.87 L191.34 322.87 L192.42 322.87 L193.49 322.87 L194.57 322.87 L195.64 322.87 L196.71 322.87 L197.79 322.87 L198.86 322.87 L199.94 322.87 L201.01 322.87 L202.08 322.87 L203.16 322.87 L204.23 322.87 L205.31 322.87 L206.38 322.87 L207.45 322.87 L208.53 322.87 L209.6 322.87 L210.68 322.87 L211.75 322.87 L212.83 322.87 L213.9 322.87 L214.97 322.87 L216.05 322.87 L217.12 322.87 L218.2 322.87 L219.27 322.87 L220.34 322.87 L221.42 322.87 L222.49 322.87 L223.57 322.87 L224.64 322.87 L225.71 322.87 L226.79 322.87 L227.86 322.87 L228.94 322.87 L230.01 322.87 L231.08 322.87 L232.16 322.87 L233.23 322.87 L234.31 322.87 L235.38 322.87 L236.45 322.87 L237.53 322.87 L238.6 322.87 L239.68 322.87 L240.75 322.87 L241.82 322.87 L242.9 322.87 L243.97 322.87 L245.05 322.87 L246.12 322.87 L247.19 322.87 L248.27 322.87 L249.34 322.87 L250.42 322.87 L251.49 322.87 L252.56 322.87 L253.64 322.87 L254.71 322.87" fill="none" stroke="#1f5a9e" stroke-width="1.2" stroke-linejoin="round"/>
<path d="M48.5 321.62 L49.57 321.62 L50.65 321.62 L51.72 321.62 L52.8 321.62 L53.87 321.62 L54.94 321.62 L56.02 321.62 L57.09 321.62 L58.17 321.62 L59.24 321.62 L60.31 321.62 L61.39 321.62 L62.46 321.62 L63.54 321.62 L64.61 321.62 L65.68 321.62 L66.76 321.62 L67.83 321.62 L68.91 321.62 L69.98 321.62 L71.05 321.62 L72.13 321.62 L73.2 321.62 L74.28 321.62 L75.35 321.62 L76.42 321.62 L77.5 321.62 L78.57 321.62 L79.65 321.62 L80.72 321.62 L81.79 321.62 L82.87 321.62 L83.94 321.62 L85.02 321.62 L86.09 321.62 L87.16 321.62 L88.24 321.62 L89.31 321.62 L90.39 321.62 L91.46 321.62 L92.53 321.62 L93.61 321.62 L94.68 321.62 L95.76 321.62 L96.83 321.62 L97.9 321.62 L98.98 321.62 L100.05 321.62 L101.13 321.62 L102.2 321.62 L103.28 321.62 L104.35 321.62 L105.42 321.62 L106.5 321.62 L107.57 321.62 L108.65 321.62 L109.72 321.62 L110.79 321.62 L111.87 321.62 L112.94 321.62 L114.02 321.62 L115.09 321.62 L116.16 321.62 L117.24 321.62 L118.31 321.62 L119.39 321.62 L120.46 321.62 L121.53 321.62 L122.61 321.62 L123.68 321.62 L124.76 321.62 L125.83 321.62 L126.9 321.62 L127.98 321.62 L129.05 321.62 L130.13 321.62 L131.2 321.62 L132.27 321.62 L133.35 321.62 L134.42 321.62 L135.5 321.62 L136.57 321.62 L137.64 321.62 L138.72 321.62 L139.79 321.62 L140.87 321.62 L141.94 321.62 L143.01 321.62 L144.09 321.62 L145.16 321.62 L146.24 321.62 L147.31 321.62 L148.38 321.62 L149.46 321.62 L150.53 321.62 L151.61 321.62 L152.68 321.62 L153.75 321.62 L154.83 321.62 L155.9 321.62 L156.98 321.62 L158.05 321.62 L159.12 321.62 L160.2 321.62 L161.27 321.62 L162.35 321.62 L163.42 321.62 L164.49 321.62 L165.57 321.62 L166.64 321.62 L167.72 321.62 L168.79 321.62 L169.86 321.62 L170.94 321.62 L172.01 321.62 L173.09 321.62 L174.16 321.62 L175.23 321.62 L176.31 321.62 L177.38 321.62 L178.46 321.62 L179.53 321.62 L180.6 321.62 L181.68 321.62 L182.75 321.62 L183.83 321.62 L184.9 321.62 L185.97 321.62 L187.05 321.62 L188.12 321.62 L189.2 321.62 L190.27 321.62 L191.34 321.62 L192.42 321.62 L193.49 321.62 L194.57 321.62 L195.64 321.62 L196.71 321.62 L197.79 321.62 L198.86 321.62 L199.94 321.62 L201.01 321.62 L202.08 321.62 L203.16 321.62 L204.23 321.62 L205.31 321.62 L206.38 321.62 L207.45 321.62 L208.53 321.62 L209.6 321.62 L210.68 321.62 L211.75 321.62 L212.83 321.62 L213.9 321.62 L214.97 321.62 L216.05 321.62 L217.12 321.62 L218.2 321.62 L219.27 321.62 L220.34 321.62 L221.42 321.62 L222.49 321.62 L223.57 321.62 L224.64 321.62 L225.71 321.62 L226.79 321.62 L227.86 321.62 L228.94 321.62 L230.01 321.62 L231.08 321.62 L232.16 321.62 L233.23 321.62 L234.31 321.62 L235.38 321.62 L236.45 321.62 L237.53 321.62 L238.6 321.62 L239.68 321.62 L240.75 321.62 L241.82 321.62 L242.9 321.62 L243.97 321.62 L245.05 321.62 L246.12 321.62 L247.19 321.62 L248.27 321.62 L249.34 321.62 L250.42 321.62 L251.49 321.62 L252.56 321.62 L253.64 321.62 L254.71 321.62" fill="none" stroke="#fcbb1a" stroke-width="1.2" stroke-linejoin="round"/>
<path d="M48.5 323.09 L49.57 323.09 L50.65 323.09 L51.72 323.09 L52.8 323.09 L53.87 323.09 L54.94 323.09 L56.02 323.09 L57.09 323.09 L58.17 323.09 L59.24 323.09 L60.31 323.09 L61.39 323.09 L62.46 323.09 L63.54 323.09 L64.61 323.09 L65.68 323.09 L66.76 323.09 L67.83 323.09 L68.91 323.09 L69.98 323.09 L71.05 323.09 L72.13 323.09 L73.2 323.09 L74.28 323.09 L75.35 323.09 L76.42 323.09 L77.5 323.09 L78.57 323.09 L79.65 323.09 L80.72 323.09 L81.79 323.09 L82.87 323.09 L83.94 323.09 L85.02 323.09 L86.09 323.09 L87.16 323.09 L88.24 323.09 L89.31 323.09 L90.39 323.09 L91.46 323.09 L92.53 323.09 L93.61 323.09 L94.68 323.09 L95.76 323.09 L96.83 323.09 L97.9 323.09 L98.98 323.09 L100.05 323.09 L101.13 323.09 L102.2 323.09 L103.28 323.09 L104.35 323.09 L105.42 323.09 L106.5 323.09 L107.57 323.09 L108.65 323.09 L109.72 323.09 L110.79 323.09 L111.87 323.09 L112.94 323.09 L114.02 323.09 L115.09 323.09 L116.16 323.09 L117.24 323.09 L118.31 323.09 L119.39 323.09 L120.46 323.09 L121.53 323.09 L122.61 323.09 L123.68 323.09 L124.76 323.09 L125.83 323.09 L126.9 323.09 L127.98 323.09 L129.05 323.09 L130.13 323.09 L131.2 323.09 L132.27 323.09 L133.35 323.09 L134.42 323.09 L135.5 323.09 L136.57 323.09 L137.64 323.09 L138.72 323.09 L139.79 323.09 L140.87 323.09 L141.94 323.09 L143.01 323.09 L144.09 323.09 L145.16 323.09 L146.24 323.09 L147.31 323.09 L148.38 323.09 L149.46 323.09 L150.53 323.09 L151.61 323.09 L152.68 323.09 L153.75 323.09 L154.83 323.09 L155.9 323.09 L156.98 323.09 L158.05 323.09 L159.12 323.09 L160.2 323.09 L161.27 323.09 L162.35 323.09 L163.42 323.09 L164.49 323.09 L165.57 323.09 L166.64 323.09 L167.72 323.09 L168.79 323.09 L169.86 323.09 L170.94 323.09 L172.01 323.09 L173.09 323.09 L174.16 323.09 L175.23 323.09 L176.31 323.09 L177.38 323.09 L178.46 323.09 L179.53 323.09 L180.6 323.09 L181.68 323.09 L182.75 323.09 L183.83 323.09 L184.9 323.09 L185.97 323.09 L187.05 323.09 L188.12 323.09 L189.2 323.09 L190.27 323.09 L191.34 323.09 L192.42 323.09 L193.49 323.09 L194.57 323.09 L195.64 323.09 L196.71 323.09 L197.79 323.09 L198.86 323.09 L199.94 323.09 L201.01 323.09 L202.08 323.09 L203.16 323.09 L204.23 323.09 L205.31 323.09 L206.38 323.09 L207.45 323.09 L208.53 323.09 L209.6 323.09 L210.68 323.09 L211.75 323.09 L212.83 323.09 L213.9 323.09 L214.97 323.09 L216.05 323.09 L217.12 323.09 L218.2 323.09 L219.27 323.09 L220.34 323.09 L221.42 323.09 L222.49 323.09 L223.57 323.09 L224.64 323.09 L225.71 323.09 L226.79 323.09 L227.86 323.09 L228.94 323.09 L230.01 323.09 L231.08 323.09 L232.16 323.09 L233.23 323.09 L234.31 323.09 L235.38 323.09 L236.45 323.09 L237.53 323.09 L238.6 323.09 L239.68 323.09 L240.75 323.09 L241.82 323.09 L242.9 323.09 L243.97 323.09 L245.05 323.09 L246.12 323.09 L247.19 323.09 L248.27 323.09 L249.34 323.09 L250.42 323.09 L251.49 323.09 L252.56 323.09 L253.64 323.09 L254.71 323.09" fill="none" stroke="#1db45e" stroke-width="1.2" stroke-linejoin="round"/>
<path d="M48.5 321.77 L74.28 324.2" fill="none" stroke="#54549e" stroke-width="1.05" stroke-linejoin="round"/>
<rect x="46.65" y="319.55" width="3.7" height="3.7" fill="#ff1a1a"/>
<rect x="72.43" y="319.55" width="3.7" height="3.7" fill="#ff1a1a"/>
<rect x="98.2" y="319.55" width="3.7" height="3.7" fill="#ff1a1a"/>
<rect x="123.98" y="319.55" width="3.7" height="3.7" fill="#ff1a1a"/>
<rect x="149.76" y="319.55" width="3.7" height="3.7" fill="#ff1a1a"/>
<rect x="175.53" y="319.55" width="3.7" height="3.7" fill="#ff1a1a"/>
<rect x="201.31" y="319.55" width="3.7" height="3.7" fill="#ff1a1a"/>
<rect x="227.09" y="319.55" width="3.7" height="3.7" fill="#ff1a1a"/>
<rect x="252.86" y="319.55" width="3.7" height="3.7" fill="#ff1a1a"/>
<circle cx="48.5" cy="322.87" r="2.05" fill="#11509a"/>
<circle cx="74.28" cy="322.87" r="2.05" fill="#11509a"/>
<circle cx="100.05" cy="322.87" r="2.05" fill="#11509a"/>
<circle cx="125.83" cy="322.87" r="2.05" fill="#11509a"/>
<circle cx="151.61" cy="322.87" r="2.05" fill="#11509a"/>
<circle cx="177.38" cy="322.87" r="2.05" fill="#11509a"/>
<circle cx="203.16" cy="322.87" r="2.05" fill="#11509a"/>
<circle cx="228.94" cy="322.87" r="2.05" fill="#11509a"/>
<circle cx="254.71" cy="322.87" r="2.05" fill="#11509a"/>
<path d="M48.5 319.28L50.84 323.37L46.16 323.37Z" fill="#ffbc00"/>
<path d="M74.28 319.28L76.62 323.37L71.94 323.37Z" fill="#ffbc00"/>
<path d="M100.05 319.28L102.39 323.37L97.71 323.37Z" fill="#ffbc00"/>
<path d="M125.83 319.28L128.17 323.37L123.49 323.37Z" fill="#ffbc00"/>
<path d="M151.61 319.28L153.95 323.37L149.27 323.37Z" fill="#ffbc00"/>
<path d="M177.38 319.28L179.72 323.37L175.04 323.37Z" fill="#ffbc00"/>
<path d="M203.16 319.28L205.5 323.37L200.82 323.37Z" fill="#ffbc00"/>
<path d="M228.94 319.28L231.28 323.37L226.6 323.37Z" fill="#ffbc00"/>
<path d="M254.71 319.28L257.05 323.37L252.37 323.37Z" fill="#ffbc00"/>
<path d="M48.5 325.43L50.84 321.34L46.16 321.34Z" fill="#12b05a"/>
<path d="M74.28 325.43L76.62 321.34L71.94 321.34Z" fill="#12b05a"/>
<path d="M100.05 325.43L102.39 321.34L97.71 321.34Z" fill="#12b05a"/>
<path d="M125.83 325.43L128.17 321.34L123.49 321.34Z" fill="#12b05a"/>
<path d="M151.61 325.43L153.95 321.34L149.27 321.34Z" fill="#12b05a"/>
<path d="M177.38 325.43L179.72 321.34L175.04 321.34Z" fill="#12b05a"/>
<path d="M203.16 325.43L205.5 321.34L200.82 321.34Z" fill="#12b05a"/>
<path d="M228.94 325.43L231.28 321.34L226.6 321.34Z" fill="#12b05a"/>
<path d="M254.71 325.43L257.05 321.34L252.37 321.34Z" fill="#12b05a"/>
<path d="M48.5 319.43L50.84 321.77L48.5 324.11L46.16 321.77Z" fill="#4f4f9f"/>
<path d="M74.28 321.86L76.62 324.2L74.28 326.54L71.94 324.2Z" fill="#4f4f9f"/>
<path d="M48.5 253.8H267.6V431.1" fill="none" stroke="#222" stroke-width="1.1"/>
<path d="M48.5 253.3V431.1H268.1" fill="none" stroke="#3a3a3a" stroke-width="1.7"/>
<line x1="218.4" y1="263.2" x2="236.8" y2="263.2" stroke="#ee2a2a" stroke-width="1.6" opacity="0.85"/>
<rect x="225.75" y="260.95" width="4.5" height="4.5" fill="#ff1a1a"/>
<text x="239.7" y="266" font-family="Liberation Serif" font-weight="bold" stroke="#111" stroke-width="0.22" font-size="8.2" fill="#111">NaNO<tspan font-size="5.2" dy="2">3</tspan></text>
<line x1="218.4" y1="275.1" x2="236.8" y2="275.1" stroke="#1f5a9e" stroke-width="1.6" opacity="0.85"/>
<circle cx="228" cy="275.1" r="2.36" fill="#11509a"/>
<text x="239.7" y="277.9" font-family="Liberation Serif" font-weight="bold" stroke="#111" stroke-width="0.22" font-size="8.2" fill="#111">NH<tspan font-size="5.2" dy="2">4</tspan><tspan dy="-2">Cl</tspan></text>
<line x1="218.4" y1="287.3" x2="236.8" y2="287.3" stroke="#fcbb1a" stroke-width="1.6" opacity="0.85"/>
<path d="M228 284.6L230.7 289.32L225.3 289.32Z" fill="#ffbc00"/>
<text x="239.7" y="290.1" font-family="Liberation Serif" font-weight="bold" stroke="#111" stroke-width="0.22" font-size="8.2" fill="#111">Urea</text>
<line x1="218.4" y1="298" x2="236.8" y2="298" stroke="#1db45e" stroke-width="1.6" opacity="0.85"/>
<path d="M228 300.7L230.7 295.98L225.3 295.98Z" fill="#12b05a"/>
<text x="239.7" y="300.8" font-family="Liberation Serif" font-weight="bold" stroke="#111" stroke-width="0.22" font-size="8.2" fill="#111">L-Ala</text>
<line x1="218.4" y1="308.6" x2="236.8" y2="308.6" stroke="#54549e" stroke-width="1.6" opacity="0.85"/>
<path d="M228 305.9L230.7 308.6L228 311.3L225.3 308.6Z" fill="#4f4f9f"/>
<text x="239.7" y="311.4" font-family="Liberation Serif" font-weight="bold" stroke="#111" stroke-width="0.22" font-size="8.2" fill="#111">L-Pro</text>
<line x1="313.1" y1="431.3" x2="313.1" y2="434.8" stroke="#222" stroke-width="1"/>
<text x="313.1" y="444.1" font-family="Liberation Serif" font-weight="bold" stroke="#111" stroke-width="0.22" font-size="7.2" text-anchor="middle" fill="#111">0</text>
<line x1="377.84" y1="431.3" x2="377.84" y2="434.8" stroke="#222" stroke-width="1"/>
<text x="377.84" y="444.1" font-family="Liberation Serif" font-weight="bold" stroke="#111" stroke-width="0.22" font-size="7.2" text-anchor="middle" fill="#111">5</text>
<line x1="442.57" y1="431.3" x2="442.57" y2="434.8" stroke="#222" stroke-width="1"/>
<text x="442.57" y="444.1" font-family="Liberation Serif" font-weight="bold" stroke="#111" stroke-width="0.22" font-size="7.2" text-anchor="middle" fill="#111">10</text>
<line x1="507.31" y1="431.3" x2="507.31" y2="434.8" stroke="#222" stroke-width="1"/>
<text x="507.31" y="444.1" font-family="Liberation Serif" font-weight="bold" stroke="#111" stroke-width="0.22" font-size="7.2" text-anchor="middle" fill="#111">15</text>
<line x1="345.47" y1="431.3" x2="345.47" y2="433.5" stroke="#222" stroke-width="1"/>
<line x1="410.2" y1="431.3" x2="410.2" y2="433.5" stroke="#222" stroke-width="1"/>
<line x1="474.94" y1="431.3" x2="474.94" y2="433.5" stroke="#222" stroke-width="1"/>
<line x1="309.6" y1="420.86" x2="313.1" y2="420.86" stroke="#222" stroke-width="1"/>
<text x="307" y="423.96" font-family="Liberation Serif" font-weight="bold" stroke="#111" stroke-width="0.22" font-size="7.2" text-anchor="end" fill="#111">90</text>
<line x1="309.6" y1="316.45" x2="313.1" y2="316.45" stroke="#222" stroke-width="1"/>
<text x="307" y="319.55" font-family="Liberation Serif" font-weight="bold" stroke="#111" stroke-width="0.22" font-size="7.2" text-anchor="end" fill="#111">100</text>
<line x1="310.9" y1="368.65" x2="313.1" y2="368.65" stroke="#222" stroke-width="1"/>
<line x1="310.9" y1="264.24" x2="313.1" y2="264.24" stroke="#222" stroke-width="1"/>
<text x="423.15" y="457.8" font-family="Liberation Serif" font-weight="bold" stroke="#111" stroke-width="0.22" font-size="9" text-anchor="middle" fill="#111">Culture Day</text>
<text transform="translate(291.7 341.5) rotate(-90)" x="0" y="0" font-family="Liberation Serif" font-weight="bold" stroke="#111" stroke-width="0.3" font-size="9.25" text-anchor="middle" fill="#111">Ex. HATX-a ratio</text>
<text x="285.8" y="261.5" font-family="Liberation Sans" font-weight="bold" font-size="18" fill="#000">D</text>
<path d="M313.1 428.17 L314.18 423.75 L315.26 419.35 L316.34 414.95 L317.42 410.59 L318.49 406.25 L319.57 401.95 L320.65 397.69 L321.73 393.49 L322.81 389.35 L323.89 385.28 L324.97 381.28 L326.05 377.36 L327.13 373.54 L328.2 369.82 L329.28 366.2 L330.36 362.7 L331.44 359.32 L332.52 356.06 L333.6 352.95 L334.68 349.97 L335.76 347.15 L336.84 344.49 L337.92 342 L338.99 339.68 L340.07 337.54 L341.15 335.57 L342.23 333.78 L343.31 332.14 L344.39 330.65 L345.47 329.3 L346.55 328.1 L347.63 327.02 L348.7 326.06 L349.78 325.21 L350.86 324.47 L351.94 323.83 L353.02 323.28 L354.1 322.81 L355.18 322.42 L356.26 322.09 L357.34 321.82 L358.41 321.61 L359.49 321.43 L360.57 321.3 L361.65 321.19 L362.73 321.11 L363.81 321.04 L364.89 320.97 L365.97 320.91 L367.05 320.84 L368.12 320.77 L369.2 320.7 L370.28 320.63 L371.36 320.55 L372.44 320.48 L373.52 320.4 L374.6 320.33 L375.68 320.25 L376.76 320.18 L377.84 320.1 L378.91 320.03 L379.99 319.95 L381.07 319.87 L382.15 319.8 L383.23 319.72 L384.31 319.65 L385.39 319.58 L386.47 319.51 L387.55 319.43 L388.62 319.37 L389.7 319.3 L390.78 319.23 L391.86 319.17 L392.94 319.1 L394.02 319.04 L395.1 318.98 L396.18 318.93 L397.26 318.87 L398.33 318.82 L399.41 318.77 L400.49 318.72 L401.57 318.67 L402.65 318.62 L403.73 318.58 L404.81 318.54 L405.89 318.5 L406.97 318.46 L408.05 318.42 L409.12 318.38 L410.2 318.35 L411.28 318.32 L412.36 318.29 L413.44 318.26 L414.52 318.23 L415.6 318.21 L416.68 318.19 L417.76 318.17 L418.83 318.15 L419.91 318.13 L420.99 318.12 L422.07 318.1 L423.15 318.09 L424.23 318.09 L425.31 318.08 L426.39 318.08 L427.47 318.08 L428.54 318.08 L429.62 318.09 L430.7 318.1 L431.78 318.11 L432.86 318.13 L433.94 318.15 L435.02 318.17 L436.1 318.2 L437.18 318.23 L438.25 318.27 L439.33 318.31 L440.41 318.35 L441.49 318.4 L442.57 318.45 L443.65 318.5 L444.73 318.57 L445.81 318.63 L446.89 318.7 L447.97 318.77 L449.04 318.84 L450.12 318.92 L451.2 318.99 L452.28 319.07 L453.36 319.15 L454.44 319.23 L455.52 319.31 L456.6 319.39 L457.68 319.47 L458.75 319.55 L459.83 319.63 L460.91 319.71 L461.99 319.78 L463.07 319.85 L464.15 319.92 L465.23 319.98 L466.31 320.04 L467.39 320.1 L468.46 320.15 L469.54 320.2 L470.62 320.24 L471.7 320.28 L472.78 320.31 L473.86 320.34 L474.94 320.37 L476.02 320.38 L477.1 320.4 L478.18 320.4 L479.25 320.41 L480.33 320.41 L481.41 320.4 L482.49 320.39 L483.57 320.37 L484.65 320.35 L485.73 320.32 L486.81 320.29 L487.89 320.25 L488.96 320.21 L490.04 320.17 L491.12 320.11 L492.2 320.06 L493.28 319.99 L494.36 319.93 L495.44 319.86 L496.52 319.78 L497.6 319.7 L498.67 319.61 L499.75 319.52 L500.83 319.43 L501.91 319.33 L502.99 319.23 L504.07 319.12 L505.15 319.01 L506.23 318.9 L507.31 318.79 L508.38 318.67 L509.46 318.55 L510.54 318.43 L511.62 318.31 L512.7 318.18 L513.78 318.06 L514.86 317.93 L515.94 317.8 L517.02 317.67 L518.1 317.54 L519.17 317.41 L520.25 317.28" fill="none" stroke="#ee2a2a" stroke-width="1.4" stroke-linejoin="round"/>
<path d="M313.1 341.51 L314.18 340.81 L315.26 340.11 L316.34 339.42 L317.42 338.73 L318.49 338.05 L319.57 337.36 L320.65 336.69 L321.73 336.02 L322.81 335.36 L323.89 334.7 L324.97 334.06 L326.05 333.42 L327.13 332.8 L328.2 332.19 L329.28 331.6 L330.36 331.01 L331.44 330.45 L332.52 329.89 L333.6 329.36 L334.68 328.84 L335.76 328.35 L336.84 327.87 L337.92 327.41 L338.99 326.98 L340.07 326.56 L341.15 326.17 L342.23 325.8 L343.31 325.45 L344.39 325.12 L345.47 324.81 L346.55 324.52 L347.63 324.24 L348.7 323.98 L349.78 323.73 L350.86 323.5 L351.94 323.29 L353.02 323.09 L354.1 322.89 L355.18 322.72 L356.26 322.55 L357.34 322.39 L358.41 322.24 L359.49 322.1 L360.57 321.97 L361.65 321.84 L362.73 321.72 L363.81 321.6 L364.89 321.49 L365.97 321.39 L367.05 321.28 L368.12 321.18 L369.2 321.09 L370.28 320.99 L371.36 320.9 L372.44 320.82 L373.52 320.73 L374.6 320.65 L375.68 320.57 L376.76 320.5 L377.84 320.43 L378.91 320.36 L379.99 320.29 L381.07 320.23 L382.15 320.17 L383.23 320.11 L384.31 320.05 L385.39 320 L386.47 319.94 L387.55 319.89 L388.62 319.84 L389.7 319.8 L390.78 319.75 L391.86 319.71 L392.94 319.67 L394.02 319.63 L395.1 319.59 L396.18 319.56 L397.26 319.53 L398.33 319.49 L399.41 319.46 L400.49 319.44 L401.57 319.41 L402.65 319.38 L403.73 319.36 L404.81 319.34 L405.89 319.32 L406.97 319.3 L408.05 319.29 L409.12 319.28 L410.2 319.26 L411.28 319.25 L412.36 319.25 L413.44 319.24 L414.52 319.23 L415.6 319.23 L416.68 319.23 L417.76 319.23 L418.83 319.24 L419.91 319.24 L420.99 319.25 L422.07 319.25 L423.15 319.27 L424.23 319.28 L425.31 319.29 L426.39 319.31 L427.47 319.33 L428.54 319.35 L429.62 319.37 L430.7 319.4 L431.78 319.43 L432.86 319.46 L433.94 319.49 L435.02 319.52 L436.1 319.56 L437.18 319.6 L438.25 319.64 L439.33 319.69 L440.41 319.74 L441.49 319.79 L442.57 319.84 L443.65 319.9 L444.73 319.95 L445.81 320.01 L446.89 320.08 L447.97 320.14 L449.04 320.21 L450.12 320.27 L451.2 320.34 L452.28 320.41 L453.36 320.48 L454.44 320.54 L455.52 320.61 L456.6 320.68 L457.68 320.75 L458.75 320.81 L459.83 320.88 L460.91 320.94 L461.99 321 L463.07 321.06 L464.15 321.12 L465.23 321.17 L466.31 321.23 L467.39 321.27 L468.46 321.32 L469.54 321.36 L470.62 321.4 L471.7 321.43 L472.78 321.47 L473.86 321.49 L474.94 321.52 L476.02 321.54 L477.1 321.56 L478.18 321.57 L479.25 321.59 L480.33 321.6 L481.41 321.6 L482.49 321.61 L483.57 321.61 L484.65 321.61 L485.73 321.6 L486.81 321.6 L487.89 321.59 L488.96 321.58 L490.04 321.57 L491.12 321.55 L492.2 321.53 L493.28 321.51 L494.36 321.49 L495.44 321.47 L496.52 321.45 L497.6 321.42 L498.67 321.39 L499.75 321.36 L500.83 321.33 L501.91 321.3 L502.99 321.27 L504.07 321.23 L505.15 321.2 L506.23 321.16 L507.31 321.12 L508.38 321.09 L509.46 321.05 L510.54 321.01 L511.62 320.97 L512.7 320.92 L513.78 320.88 L514.86 320.84 L515.94 320.8 L517.02 320.75 L518.1 320.71 L519.17 320.67 L520.25 320.62" fill="none" stroke="#1f5a9e" stroke-width="1.4" stroke-linejoin="round"/>
<path d="M313.1 326.05 L314.18 325.98 L315.26 325.9 L316.34 325.83 L317.42 325.76 L318.49 325.68 L319.57 325.6 L320.65 325.53 L321.73 325.45 L322.81 325.37 L323.89 325.28 L324.97 325.2 L326.05 325.12 L327.13 325.03 L328.2 324.94 L329.28 324.85 L330.36 324.75 L331.44 324.65 L332.52 324.55 L333.6 324.45 L334.68 324.34 L335.76 324.23 L336.84 324.12 L337.92 324 L338.99 323.88 L340.07 323.75 L341.15 323.62 L342.23 323.49 L343.31 323.35 L344.39 323.21 L345.47 323.07 L346.55 322.93 L347.63 322.78 L348.7 322.63 L349.78 322.48 L350.86 322.33 L351.94 322.18 L353.02 322.03 L354.1 321.88 L355.18 321.73 L356.26 321.58 L357.34 321.43 L358.41 321.29 L359.49 321.14 L360.57 321 L361.65 320.86 L362.73 320.72 L363.81 320.58 L364.89 320.45 L365.97 320.32 L367.05 320.2 L368.12 320.07 L369.2 319.96 L370.28 319.84 L371.36 319.73 L372.44 319.62 L373.52 319.52 L374.6 319.42 L375.68 319.32 L376.76 319.23 L377.84 319.14 L378.91 319.05 L379.99 318.97 L381.07 318.89 L382.15 318.81 L383.23 318.74 L384.31 318.67 L385.39 318.6 L386.47 318.53 L387.55 318.47 L388.62 318.42 L389.7 318.36 L390.78 318.31 L391.86 318.26 L392.94 318.22 L394.02 318.17 L395.1 318.13 L396.18 318.1 L397.26 318.06 L398.33 318.03 L399.41 318 L400.49 317.97 L401.57 317.95 L402.65 317.93 L403.73 317.91 L404.81 317.89 L405.89 317.87 L406.97 317.86 L408.05 317.85 L409.12 317.84 L410.2 317.83 L411.28 317.82 L412.36 317.81 L413.44 317.81 L414.52 317.81 L415.6 317.8 L416.68 317.8 L417.76 317.8 L418.83 317.81 L419.91 317.81 L420.99 317.81 L422.07 317.82 L423.15 317.82 L424.23 317.83 L425.31 317.84 L426.39 317.85 L427.47 317.86 L428.54 317.87 L429.62 317.88 L430.7 317.89 L431.78 317.9 L432.86 317.92 L433.94 317.93 L435.02 317.95 L436.1 317.97 L437.18 317.98 L438.25 318 L439.33 318.02 L440.41 318.04 L441.49 318.06 L442.57 318.08 L443.65 318.1 L444.73 318.13 L445.81 318.15 L446.89 318.18 L447.97 318.2 L449.04 318.22 L450.12 318.25 L451.2 318.27 L452.28 318.3 L453.36 318.33 L454.44 318.35 L455.52 318.38 L456.6 318.4 L457.68 318.43 L458.75 318.46 L459.83 318.48 L460.91 318.51 L461.99 318.53 L463.07 318.56 L464.15 318.58 L465.23 318.61 L466.31 318.63 L467.39 318.65 L468.46 318.67 L469.54 318.7 L470.62 318.72 L471.7 318.74 L472.78 318.76 L473.86 318.77 L474.94 318.79 L476.02 318.81 L477.1 318.82 L478.18 318.84 L479.25 318.85 L480.33 318.87 L481.41 318.88 L482.49 318.89 L483.57 318.9 L484.65 318.91 L485.73 318.92 L486.81 318.93 L487.89 318.93 L488.96 318.94 L490.04 318.94 L491.12 318.95 L492.2 318.95 L493.28 318.95 L494.36 318.95 L495.44 318.95 L496.52 318.95 L497.6 318.95 L498.67 318.94 L499.75 318.94 L500.83 318.93 L501.91 318.93 L502.99 318.92 L504.07 318.91 L505.15 318.91 L506.23 318.9 L507.31 318.89 L508.38 318.88 L509.46 318.87 L510.54 318.86 L511.62 318.84 L512.7 318.83 L513.78 318.82 L514.86 318.81 L515.94 318.8 L517.02 318.78 L518.1 318.77 L519.17 318.76 L520.25 318.74" fill="none" stroke="#fcbb1a" stroke-width="1.4" stroke-linejoin="round"/>
<path d="M313.1 357.17 L314.18 356.25 L315.26 355.34 L316.34 354.43 L317.42 353.52 L318.49 352.61 L319.57 351.71 L320.65 350.81 L321.73 349.91 L322.81 349.02 L323.89 348.14 L324.97 347.26 L326.05 346.39 L327.13 345.53 L328.2 344.67 L329.28 343.82 L330.36 342.99 L331.44 342.16 L332.52 341.35 L333.6 340.54 L334.68 339.75 L335.76 338.97 L336.84 338.21 L337.92 337.46 L338.99 336.72 L340.07 336 L341.15 335.29 L342.23 334.6 L343.31 333.93 L344.39 333.27 L345.47 332.63 L346.55 332.01 L347.63 331.4 L348.7 330.8 L349.78 330.23 L350.86 329.67 L351.94 329.13 L353.02 328.6 L354.1 328.1 L355.18 327.61 L356.26 327.14 L357.34 326.68 L358.41 326.25 L359.49 325.83 L360.57 325.43 L361.65 325.05 L362.73 324.69 L363.81 324.34 L364.89 324.02 L365.97 323.71 L367.05 323.42 L368.12 323.15 L369.2 322.9 L370.28 322.66 L371.36 322.44 L372.44 322.24 L373.52 322.04 L374.6 321.87 L375.68 321.7 L376.76 321.55 L377.84 321.41 L378.91 321.28 L379.99 321.16 L381.07 321.04 L382.15 320.94 L383.23 320.85 L384.31 320.76 L385.39 320.68 L386.47 320.61 L387.55 320.54 L388.62 320.48 L389.7 320.42 L390.78 320.36 L391.86 320.31 L392.94 320.26 L394.02 320.21 L395.1 320.17 L396.18 320.13 L397.26 320.09 L398.33 320.05 L399.41 320.02 L400.49 319.99 L401.57 319.96 L402.65 319.94 L403.73 319.92 L404.81 319.91 L405.89 319.9 L406.97 319.89 L408.05 319.88 L409.12 319.88 L410.2 319.88 L411.28 319.89 L412.36 319.9 L413.44 319.91 L414.52 319.93 L415.6 319.95 L416.68 319.98 L417.76 320.01 L418.83 320.04 L419.91 320.08 L420.99 320.12 L422.07 320.17 L423.15 320.22 L424.23 320.27 L425.31 320.33 L426.39 320.39 L427.47 320.45 L428.54 320.51 L429.62 320.58 L430.7 320.65 L431.78 320.72 L432.86 320.79 L433.94 320.87 L435.02 320.95 L436.1 321.02 L437.18 321.11 L438.25 321.19 L439.33 321.27 L440.41 321.36 L441.49 321.44 L442.57 321.53 L443.65 321.62 L444.73 321.7 L445.81 321.79 L446.89 321.88 L447.97 321.97 L449.04 322.06 L450.12 322.14 L451.2 322.23 L452.28 322.32 L453.36 322.4 L454.44 322.49 L455.52 322.57 L456.6 322.65 L457.68 322.73 L458.75 322.8 L459.83 322.88 L460.91 322.95 L461.99 323.02 L463.07 323.09 L464.15 323.15 L465.23 323.21 L466.31 323.27 L467.39 323.32 L468.46 323.37 L469.54 323.42 L470.62 323.46 L471.7 323.5 L472.78 323.53 L473.86 323.56 L474.94 323.59 L476.02 323.61 L477.1 323.63 L478.18 323.65 L479.25 323.66 L480.33 323.67 L481.41 323.68 L482.49 323.68 L483.57 323.68 L484.65 323.67 L485.73 323.66 L486.81 323.65 L487.89 323.64 L488.96 323.62 L490.04 323.6 L491.12 323.58 L492.2 323.55 L493.28 323.53 L494.36 323.49 L495.44 323.46 L496.52 323.42 L497.6 323.39 L498.67 323.34 L499.75 323.3 L500.83 323.25 L501.91 323.21 L502.99 323.16 L504.07 323.1 L505.15 323.05 L506.23 323 L507.31 322.94 L508.38 322.88 L509.46 322.82 L510.54 322.76 L511.62 322.7 L512.7 322.64 L513.78 322.58 L514.86 322.51 L515.94 322.45 L517.02 322.38 L518.1 322.32 L519.17 322.25 L520.25 322.19" fill="none" stroke="#1db45e" stroke-width="1.4" stroke-linejoin="round"/>
<path d="M313.1 334.72 L314.18 334.13 L315.26 333.55 L316.34 332.97 L317.42 332.41 L318.49 331.86 L319.57 331.34 L320.65 330.83 L321.73 330.35 L322.81 329.91 L323.89 329.49 L324.97 329.12 L326.05 328.79 L327.13 328.51 L328.2 328.28 L329.28 328.1 L330.36 327.98 L331.44 327.92 L332.52 327.93 L333.6 328.01 L334.68 328.16 L335.76 328.39 L336.84 328.7 L337.92 329.1 L338.99 329.59 L340.07 330.16 L341.15 330.83 L342.23 331.59 L343.31 332.42 L344.39 333.34 L345.47 334.32 L346.55 335.38 L347.63 336.5 L348.7 337.69 L349.78 338.93 L350.86 340.23 L351.94 341.58 L353.02 342.98 L354.1 344.42 L355.18 345.89 L356.26 347.41 L357.34 348.95 L358.41 350.52 L359.49 352.12 L360.57 353.73 L361.65 355.36 L362.73 357 L363.81 358.65 L364.89 360.3" fill="none" stroke="#54549e" stroke-width="1.25" stroke-linejoin="round"/>
<rect x="311.1" y="426.17" width="4" height="4" fill="#ff1a1a"/>
<rect x="362.89" y="319.15" width="4" height="4" fill="#ff1a1a"/>
<rect x="388.78" y="317.06" width="4" height="4" fill="#ff1a1a"/>
<rect x="414.68" y="316.01" width="4" height="4" fill="#ff1a1a"/>
<rect x="440.57" y="316.01" width="4" height="4" fill="#ff1a1a"/>
<rect x="466.46" y="318.62" width="4" height="4" fill="#ff1a1a"/>
<rect x="492.36" y="318.41" width="4" height="4" fill="#ff1a1a"/>
<rect x="518.25" y="315.28" width="4" height="4" fill="#ff1a1a"/>
<circle cx="313.1" cy="341.51" r="2.21" fill="#11509a"/>
<circle cx="338.99" cy="324.8" r="2.21" fill="#11509a"/>
<circle cx="364.89" cy="321.15" r="2.21" fill="#11509a"/>
<circle cx="390.78" cy="319.58" r="2.21" fill="#11509a"/>
<circle cx="416.68" cy="319.06" r="2.21" fill="#11509a"/>
<circle cx="442.57" cy="319.58" r="2.21" fill="#11509a"/>
<circle cx="468.46" cy="321.67" r="2.21" fill="#11509a"/>
<circle cx="494.36" cy="321.67" r="2.21" fill="#11509a"/>
<circle cx="520.25" cy="320.62" r="2.21" fill="#11509a"/>
<path d="M313.1 323.53L315.62 327.94L310.58 327.94Z" fill="#ffbc00"/>
<path d="M338.99 321.76L341.51 326.17L336.47 326.17Z" fill="#ffbc00"/>
<path d="M364.89 317.58L367.41 321.99L362.37 321.99Z" fill="#ffbc00"/>
<path d="M390.78 315.49L393.3 319.9L388.26 319.9Z" fill="#ffbc00"/>
<path d="M416.68 315.18L419.2 319.59L414.16 319.59Z" fill="#ffbc00"/>
<path d="M442.57 315.49L445.09 319.9L440.05 319.9Z" fill="#ffbc00"/>
<path d="M468.46 316.22L470.98 320.63L465.94 320.63Z" fill="#ffbc00"/>
<path d="M494.36 316.54L496.88 320.95L491.84 320.95Z" fill="#ffbc00"/>
<path d="M520.25 316.22L522.77 320.63L517.73 320.63Z" fill="#ffbc00"/>
<path d="M313.1 359.69L315.62 355.28L310.58 355.28Z" fill="#12b05a"/>
<path d="M338.99 337.76L341.51 333.35L336.47 333.35Z" fill="#12b05a"/>
<path d="M364.89 324.71L367.41 320.3L362.37 320.3Z" fill="#12b05a"/>
<path d="M390.78 322.62L393.3 318.21L388.26 318.21Z" fill="#12b05a"/>
<path d="M416.68 322.1L419.2 317.69L414.16 317.69Z" fill="#12b05a"/>
<path d="M442.57 323.98L445.09 319.57L440.05 319.57Z" fill="#12b05a"/>
<path d="M468.46 326.28L470.98 321.87L465.94 321.87Z" fill="#12b05a"/>
<path d="M494.36 326.28L496.88 321.87L491.84 321.87Z" fill="#12b05a"/>
<path d="M520.25 324.71L522.77 320.3L517.73 320.3Z" fill="#12b05a"/>
<path d="M313.1 332.2L315.62 334.72L313.1 337.24L310.58 334.72Z" fill="#4f4f9f"/>
<path d="M338.99 318.1L341.51 320.62L338.99 323.14L336.47 320.62Z" fill="#4f4f9f"/>
<path d="M364.89 357.78L367.41 360.3L364.89 362.82L362.37 360.3Z" fill="#4f4f9f"/>
<path d="M313.1 253.8H533.2V431.3" fill="none" stroke="#222" stroke-width="1.1"/>
<path d="M313.1 253.3V431.3H533.7" fill="none" stroke="#3a3a3a" stroke-width="1.7"/>
<line x1="483.3" y1="260.8" x2="502.4" y2="260.8" stroke="#ee2a2a" stroke-width="1.6" opacity="0.85"/>
<rect x="490.65" y="258.55" width="4.5" height="4.5" fill="#ff1a1a"/>
<text x="505" y="263.6" font-family="Liberation Serif" font-weight="bold" stroke="#111" stroke-width="0.22" font-size="8.2" fill="#111">NaNO<tspan font-size="5.2" dy="2">3</tspan></text>
<line x1="483.3" y1="273.6" x2="502.4" y2="273.6" stroke="#1f5a9e" stroke-width="1.6" opacity="0.85"/>
<circle cx="492.9" cy="273.6" r="2.36" fill="#11509a"/>
<text x="505" y="276.4" font-family="Liberation Serif" font-weight="bold" stroke="#111" stroke-width="0.22" font-size="8.2" fill="#111">NH<tspan font-size="5.2" dy="2">4</tspan><tspan dy="-2">Cl</tspan></text>
<line x1="483.3" y1="286.1" x2="502.4" y2="286.1" stroke="#fcbb1a" stroke-width="1.6" opacity="0.85"/>
<path d="M492.9 283.4L495.6 288.12L490.2 288.12Z" fill="#ffbc00"/>
<text x="505" y="288.9" font-family="Liberation Serif" font-weight="bold" stroke="#111" stroke-width="0.22" font-size="8.2" fill="#111">Urea</text>
<line x1="483.3" y1="296.7" x2="502.4" y2="296.7" stroke="#1db45e" stroke-width="1.6" opacity="0.85"/>
<path d="M492.9 299.4L495.6 294.68L490.2 294.68Z" fill="#12b05a"/>
<text x="505" y="299.5" font-family="Liberation Serif" font-weight="bold" stroke="#111" stroke-width="0.22" font-size="8.2" fill="#111">L-Ala</text>
<line x1="483.3" y1="306.9" x2="502.4" y2="306.9" stroke="#54549e" stroke-width="1.6" opacity="0.85"/>
<path d="M492.9 304.2L495.6 306.9L492.9 309.6L490.2 306.9Z" fill="#4f4f9f"/>
<text x="505" y="309.7" font-family="Liberation Serif" font-weight="bold" stroke="#111" stroke-width="0.22" font-size="8.2" fill="#111">L-Pro</text>
</svg></body></html>
